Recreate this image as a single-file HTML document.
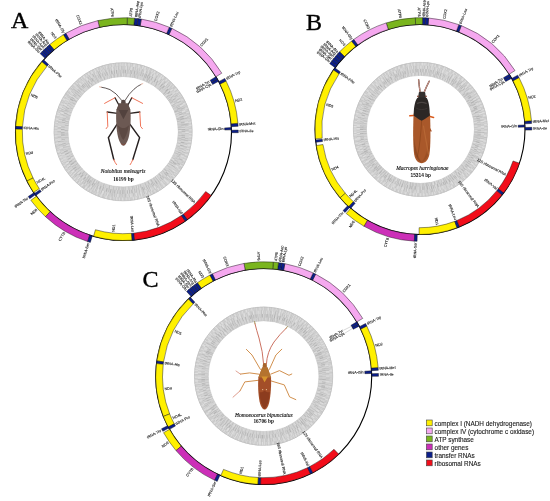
<!DOCTYPE html><html><head><meta charset="utf-8"><title>Mitogenome maps</title><style>html,body{margin:0;padding:0;background:#fff;}svg{display:block;filter:blur(0.35px);}</style></head><body><svg width="550" height="501" viewBox="0 0 550 501">
<rect width="550" height="501" fill="#fff"/>
<circle cx="123.1" cy="131.8" r="62.15" fill="none" stroke="#d3d3d3" stroke-width="14.30"/>
<circle cx="123.1" cy="131.8" r="56.79" fill="none" stroke="#b8b8b8" stroke-width="3.62" opacity="0.8" stroke-dasharray="0.7 1.2 1.1 1.5 0.8 1.7 0.7 1.9 1.1 0.7 0.8 1.1 0.9 1.8 0.4 0.8 0.8 2.3 1.0 2.2 0.5 1.3 0.9 1.3 0.6 2.4 0.9 1.4 0.8 2.0 1.0 2.2 0.7 2.5 1.0 1.1 0.5 1.5 0.6 2.4 0.4 2.2 0.5 2.2 0.7 0.9 1.2 1.4 1.2 1.2 0.6 1.7 0.6 1.8 1.0 1.9 0.4 1.9 0.6 1.5 1.1 2.3 0.5 0.8 1.0 1.5 1.0 1.9 1.2 2.3 1.2 2.4 0.9 1.4 0.5 2.3 0.8 1.6 0.6 1.3 0.8 1.9 0.6 0.9 0.9 2.5 0.8 2.6 0.5 2.2 0.8 0.7 0.5 2.0 1.1 0.9 0.9 2.4 0.6 2.3 0.5 0.9 1.0 2.4 1.0 1.6 0.9 1.7 0.9 2.5 0.8 1.1 0.6 1.7 1.0 1.4 0.6 0.9 1.0 0.6 0.7 0.9 1.0 2.1 0.9 0.8 0.6 1.2 1.1 2.5 1.0 1.7 0.7 1.8 0.8 1.3 0.6 0.7 0.6 0.9 1.0 2.2 0.5 2.4 1.0 1.3 1.0 1.6 0.9 2.1 1.1 1.8 0.6 1.9 0.9 1.6 0.7 2.6 1.2 2.1" stroke-dashoffset="24.5"/>
<circle cx="123.1" cy="131.8" r="56.79" fill="none" stroke="#e4e4e4" stroke-width="3.62" opacity="0.6" stroke-dasharray="1.0 2.7 0.5 3.0 0.9 5.9 1.0 4.6 0.6 5.3 0.5 2.8 0.9 5.2 0.5 5.1 1.0 4.6 0.9 5.9 1.1 2.1 1.1 4.6 1.2 5.8 0.8 2.6 1.2 2.1 0.6 2.8 1.1 2.6 0.9 2.9 0.9 3.7 1.1 4.4 1.2 2.4 0.6 4.3 1.1 5.8 0.6 5.9 0.8 5.7 0.5 3.5 0.9 5.0 1.1 2.5 0.9 2.5 1.0 2.3 1.1 3.7 0.9 4.6 0.6 5.6 0.9 4.0 1.0 3.8 1.2 2.1 0.5 4.5 1.0 4.9 0.5 2.8 0.7 5.5 0.9 3.1 0.7 4.7 0.7 3.1 1.0 2.8 0.7 2.7 0.7 4.9 0.6 3.4 0.8 3.8 0.8 3.3 0.7 5.6 0.8 3.5 0.7 4.6 0.9 5.8 1.1 4.4 1.1 2.1 0.9 4.3 0.7 5.7 0.9 2.4 0.9 3.0 0.7 2.4 0.9 2.5 0.8 5.0 1.1 2.9 0.9 5.0 0.5 3.9 0.9 4.9 1.0 3.8 0.8 4.3 0.8 2.3 0.8 4.1 0.9 4.9 0.5 3.8 0.7 4.0 1.0 4.4 0.6 5.0 1.2 3.8 0.7 5.3 0.8 4.1 0.7 4.5 0.7 3.0" stroke-dashoffset="44.2"/>
<circle cx="123.1" cy="131.8" r="60.36" fill="none" stroke="#adadad" stroke-width="3.62" opacity="0.8" stroke-dasharray="0.8 1.9 0.5 1.2 0.7 1.0 0.8 1.7 1.2 1.1 1.2 2.0 1.1 1.8 0.7 1.9 0.4 1.6 0.9 0.7 0.8 0.6 0.5 0.8 0.5 1.9 0.6 1.9 0.8 1.6 1.1 0.6 0.4 1.1 0.9 1.7 0.5 1.9 0.5 1.5 0.4 1.7 1.3 0.8 0.9 1.9 0.5 0.8 0.6 1.1 0.9 1.4 0.6 1.2 0.6 1.6 1.1 1.5 0.5 0.5 0.9 0.8 0.6 1.0 0.8 1.3 0.6 1.3 0.7 1.9 0.6 0.7 1.2 0.6 0.5 2.1 0.5 2.2 0.5 1.1 1.0 1.7 1.1 1.5 0.7 1.2 0.9 1.9 0.5 1.5 1.2 1.6 0.9 1.2 1.0 2.2 0.9 1.7 0.5 0.7 1.3 0.8 0.9 1.3 1.2 1.5 0.6 0.8 0.8 1.8 1.1 2.1 0.5 1.8 0.6 0.8 0.7 0.8 1.2 1.3 0.7 0.5 1.1 0.8 1.2 0.7 1.0 1.6 1.2 2.2 1.3 1.6 1.0 2.1 0.5 1.7 1.1 1.4 1.2 1.7 0.7 1.2 1.2 1.7 1.3 2.0 0.8 1.8 0.6 2.1 1.1 1.6 1.1 0.8 0.5 2.0 1.1 0.8 0.6 0.9" stroke-dashoffset="0.7"/>
<circle cx="123.1" cy="131.8" r="60.36" fill="none" stroke="#e2e2e2" stroke-width="3.62" opacity="0.5" stroke-dasharray="1.2 5.7 0.5 2.8 0.9 5.3 0.7 4.7 0.6 5.8 1.2 6.0 1.2 5.3 0.6 4.7 0.7 2.5 1.0 3.5 0.8 2.3 1.0 4.8 1.1 4.5 0.5 5.4 1.0 5.8 0.6 3.1 0.9 5.2 0.6 3.6 1.2 5.8 1.2 4.6 1.0 5.5 1.1 2.2 0.9 5.7 1.1 2.1 0.5 4.1 1.1 5.1 1.0 2.6 0.8 4.5 0.7 4.3 0.7 4.0 0.8 5.1 1.1 2.3 0.7 5.3 1.2 4.5 1.1 5.4 0.7 4.3 0.7 2.4 1.2 4.1 0.6 4.0 1.2 5.1 1.1 5.5 0.8 2.2 0.8 4.5 1.1 4.3 0.6 4.3 1.1 4.3 0.6 4.9 0.9 3.9 0.7 5.8 0.6 5.7 0.6 4.6 0.6 3.9 1.1 2.8 1.0 5.2 0.8 5.2 0.8 5.9 0.8 3.0 1.0 2.9 0.8 4.0 0.9 5.0 0.7 5.3 0.8 2.2 0.7 5.6 1.0 3.5 1.0 3.1 0.6 4.9 1.1 5.7 0.9 3.1 0.6 4.5 0.8 2.8 0.8 2.6 1.0 3.0 1.1 4.7 0.9 4.3 1.2 5.6 0.6 5.7 0.6 5.5 0.5 2.2 0.8 5.9 0.8 4.4" stroke-dashoffset="20.0"/>
<circle cx="123.1" cy="131.8" r="63.94" fill="none" stroke="#b6b6b6" stroke-width="3.62" opacity="0.75" stroke-dasharray="0.6 2.2 0.7 0.7 0.8 1.4 0.7 2.3 1.0 1.5 0.4 1.6 0.9 1.9 0.6 2.0 0.7 1.0 0.5 2.3 0.9 2.3 0.7 1.3 0.8 1.0 0.9 0.8 0.5 0.7 0.5 1.0 0.4 1.7 1.0 1.1 0.4 1.1 1.0 0.8 0.9 1.6 0.9 1.7 0.9 2.0 1.0 2.2 0.5 0.9 0.9 1.4 0.4 1.9 0.5 0.7 0.5 1.7 0.5 1.9 0.8 2.2 0.7 2.0 1.0 0.9 0.8 0.7 0.7 1.9 0.8 1.8 0.7 2.2 0.6 0.6 1.0 1.8 0.5 0.8 0.5 1.4 0.6 2.2 0.6 0.8 0.8 1.1 0.6 1.1 1.0 2.2 0.8 0.9 0.4 2.0 0.9 2.2 0.6 1.9 0.4 0.7 0.6 1.8 1.0 0.9 0.7 1.4 0.5 0.9 0.9 1.0 0.6 1.2 0.7 1.6 0.7 0.8 0.7 1.4 0.4 1.3 0.7 1.1 0.7 0.7 0.4 1.1 0.4 0.7 0.7 1.6 0.5 2.2 0.8 1.9 0.8 1.3 0.5 2.2 0.8 0.8 0.6 1.5 0.4 1.6 1.0 1.9 1.0 2.2 0.8 1.5 1.0 1.2 0.4 1.7 0.7 1.8 0.9 0.9" stroke-dashoffset="22.5"/>
<circle cx="123.1" cy="131.8" r="63.94" fill="none" stroke="#e6e6e6" stroke-width="3.62" opacity="0.6" stroke-dasharray="0.8 3.2 0.9 3.7 1.8 2.1 1.1 3.1 1.0 1.7 1.3 4.1 1.7 2.8 1.0 3.1 1.8 3.2 1.3 1.7 1.7 2.2 1.5 4.3 0.9 2.4 1.0 4.7 1.4 4.4 1.6 4.7 1.1 3.8 1.6 3.6 1.2 4.5 1.0 1.6 1.7 2.9 1.7 2.1 1.4 2.6 1.1 3.2 1.7 2.6 1.6 3.9 1.2 4.3 1.6 3.2 1.4 4.0 2.0 1.6 1.0 3.2 0.8 4.5 1.6 3.8 0.9 4.2 1.1 3.8 1.9 3.6 1.6 1.7 1.0 3.5 1.2 4.6 1.1 4.1 1.0 3.0 1.5 5.0 1.0 1.6 1.4 2.0 1.2 2.1 1.7 1.5 1.5 1.5 0.9 1.6 1.4 2.4 1.1 2.4 0.9 2.3 1.8 3.3 1.0 2.1 1.9 3.6 0.9 3.9 0.9 2.7 1.4 4.4 0.9 3.2 1.4 2.1 1.8 2.9 1.0 3.2 1.5 3.4 1.8 4.3 1.2 1.6 0.9 1.7 0.9 2.4 1.9 4.4 1.8 1.7 1.6 2.6 1.5 4.4 1.1 3.7 1.4 4.5 0.8 1.8 1.1 2.3 1.0 4.5 1.5 3.2 1.4 2.0 1.3 4.6 1.4 3.3 1.3 3.9" stroke-dashoffset="41.3"/>
<circle cx="123.1" cy="131.8" r="67.51" fill="none" stroke="#bcbcbc" stroke-width="3.62" opacity="0.85" stroke-dasharray="0.4 1.1 0.5 0.9 0.4 0.9 0.5 0.8 0.5 1.1 0.4 1.2 0.4 0.8 0.5 1.1 0.4 0.9 0.3 1.0 0.5 1.1 0.5 0.9 0.4 1.3 0.4 1.0 0.3 0.8 0.3 1.2 0.5 0.7 0.4 0.7 0.4 1.1 0.4 1.1 0.4 1.2 0.4 1.0 0.5 0.9 0.4 0.7 0.3 1.0 0.3 1.1 0.4 1.2 0.4 0.9 0.5 0.9 0.5 0.6 0.3 1.1 0.4 1.1 0.4 0.8 0.4 1.2 0.3 0.6 0.4 1.1 0.4 0.7 0.4 0.7 0.5 1.1 0.3 1.0 0.4 1.0 0.5 1.2 0.4 0.8 0.5 1.3 0.3 0.8 0.5 0.9 0.4 1.2 0.4 0.7 0.5 0.6 0.3 0.6 0.5 0.9 0.3 0.8 0.5 0.7 0.4 0.8 0.5 1.0 0.5 0.9 0.3 1.2 0.5 1.1 0.5 0.6 0.5 0.8 0.5 1.2 0.5 1.1 0.3 1.3 0.5 1.0 0.5 0.7 0.3 1.3 0.4 0.8 0.4 0.9 0.4 0.8 0.4 1.3 0.5 0.7 0.5 1.2 0.5 0.9 0.4 1.2 0.3 1.3 0.5 0.9 0.5 1.0 0.5 0.6 0.4 0.8 0.5 0.6" stroke-dashoffset="34.2"/>
<circle cx="123.1" cy="131.8" r="67.51" fill="none" stroke="#e6e6e6" stroke-width="3.62" opacity="0.6" stroke-dasharray="0.8 1.3 1.8 1.9 0.9 3.5 1.7 2.2 0.8 3.0 0.7 2.4 1.7 2.0 0.9 2.2 1.8 1.8 0.9 3.4 0.6 2.1 0.9 1.5 1.7 1.5 0.9 1.6 1.5 1.8 1.7 2.0 1.4 1.1 1.6 2.4 1.1 2.4 0.8 1.2 1.5 2.8 0.7 1.6 1.3 3.1 1.1 2.9 0.8 1.3 0.7 1.7 1.5 2.3 1.2 3.4 1.8 3.3 1.6 2.6 1.3 1.1 1.5 2.7 1.0 2.4 1.0 1.5 1.4 2.3 1.2 2.9 1.5 1.0 1.3 2.4 1.5 1.4 1.1 3.2 0.8 1.6 0.9 2.6 1.7 2.2 0.8 2.3 0.9 1.7 0.7 2.3 1.0 3.5 1.7 3.3 1.8 2.6 1.2 2.1 0.7 3.4 0.7 2.1 1.5 1.3 1.6 2.9 1.5 2.6 0.9 2.0 1.3 1.6 1.3 2.5 1.2 1.5 0.9 2.6 1.3 2.0 1.3 2.4 0.9 2.9 0.8 1.0 1.6 1.7 1.3 1.4 1.2 1.8 1.7 2.9 0.6 3.5 1.4 1.8 1.3 2.8 1.2 2.0 1.1 1.2 0.6 2.2 1.2 1.9 1.2 1.7 1.0 1.7 1.7 2.4 1.2 1.0 1.4 3.0" stroke-dashoffset="37.1"/>
<path d="M99.2,81.9L96.0,75.1M132.7,77.3L134.0,70.0M178.0,124.8L189.0,123.4M137.4,78.4L139.8,69.3M97.3,82.9L92.9,74.6M177.1,119.7L189.3,116.9M174.9,112.4L182.7,109.4M170.7,159.9L178.6,164.5M172.9,155.8L182.2,160.3M118.8,76.7L118.0,66.0M99.4,181.8L94.1,193.1M162.6,170.5L171.6,179.2M75.9,160.6L67.3,165.8M69.8,117.1L62.6,115.2M120.6,76.6L120.1,65.7M91.2,177.0L83.6,187.7M80.5,96.6L71.6,89.2M178.3,135.5L187.8,136.1M82.7,94.0L73.1,85.1M146.7,81.8L151.2,72.4M101.6,80.8L96.6,68.9M174.3,110.8L181.1,108.0M145.6,81.3L149.8,71.8M113.9,186.3L112.0,197.3M135.4,77.9L137.3,69.2M177.9,138.9L185.2,139.8M79.8,166.1L74.0,170.7M176.1,147.5L185.5,150.3M176.8,118.7L183.8,117.0M88.8,175.2L81.6,184.3M163.7,169.4L173.4,178.3M89.0,88.3L81.9,79.3M178.1,126.1L187.3,125.1M163.4,93.9L171.5,86.2M81.2,95.7L71.8,87.6M158.3,89.2L165.1,81.0M177.8,123.7L185.1,122.6M171.9,157.8L182.4,163.4M153.4,178.1L160.4,188.8M114.2,186.4L112.7,196.2M84.6,92.1L77.7,85.0M174.5,111.5L185.5,107.2M77.9,163.6L69.2,169.7M121.4,187.1L121.1,195.2M123.8,187.1L123.9,200.3" stroke="#acacac" stroke-width="0.45" opacity="0.5"/>
<circle cx="123.1" cy="131.8" r="69.05" fill="none" stroke="#b6b6b6" stroke-width="0.5"/>
<circle cx="123.1" cy="131.8" r="55.25" fill="none" stroke="#c4c4c4" stroke-width="0.5"/>
<circle cx="123.5" cy="132.5" r="108" fill="none" stroke="#000" stroke-width="1.1"/>
<path d="M238.27,130.10A114.8,114.8 0 0 1 238.30,132.70L231.50,132.69A108,108 0 0 0 231.48,130.24Z" fill="#0b1e8a" stroke="#111" stroke-width="0.45"/>
<path d="M231.39,127.60A108,108 0 0 1 231.47,129.86L224.67,130.03A101.2,101.2 0 0 0 224.60,127.91Z" fill="#0b1e8a" stroke="#111" stroke-width="0.45"/>
<path d="M237.93,123.29A114.8,114.8 0 0 1 238.13,126.29L231.34,126.66A108,108 0 0 0 231.15,123.84Z" fill="#0b1e8a" stroke="#111" stroke-width="0.45"/>
<path d="M226.06,80.92A114.8,114.8 0 0 1 237.93,123.29L231.15,123.84A108,108 0 0 0 219.98,83.97Z" fill="#fff000" stroke="#111" stroke-width="0.45"/>
<path d="M224.77,78.43A114.8,114.8 0 0 1 226.06,80.92L219.98,83.97A108,108 0 0 0 218.77,81.63Z" fill="#0b1e8a" stroke="#111" stroke-width="0.45"/>
<path d="M217.31,78.99A108,108 0 0 1 218.59,81.30L212.60,84.52A101.2,101.2 0 0 0 211.41,82.36Z" fill="#0b1e8a" stroke="#111" stroke-width="0.45"/>
<path d="M215.98,76.71A108,108 0 0 1 217.31,78.99L211.41,82.36A101.2,101.2 0 0 0 210.15,80.23Z" fill="#0b1e8a" stroke="#111" stroke-width="0.45"/>
<path d="M171.83,28.37A114.8,114.8 0 0 1 221.80,73.20L215.98,76.71A108,108 0 0 0 168.97,34.54Z" fill="#f5a8ef" stroke="#111" stroke-width="0.45"/>
<path d="M169.28,27.22A114.8,114.8 0 0 1 171.83,28.37L168.97,34.54A108,108 0 0 0 166.56,33.46Z" fill="#0b1e8a" stroke="#111" stroke-width="0.45"/>
<path d="M141.26,19.08A114.8,114.8 0 0 1 169.28,27.22L166.56,33.46A108,108 0 0 0 140.21,25.80Z" fill="#f5a8ef" stroke="#111" stroke-width="0.45"/>
<path d="M137.89,18.61A114.8,114.8 0 0 1 141.26,19.08L140.21,25.80A108,108 0 0 0 137.04,25.35Z" fill="#0b1e8a" stroke="#111" stroke-width="0.45"/>
<path d="M134.50,18.23A114.8,114.8 0 0 1 137.89,18.61L137.04,25.35A108,108 0 0 0 133.85,25.00Z" fill="#0b1e8a" stroke="#111" stroke-width="0.45"/>
<path d="M127.31,17.76A114.8,114.8 0 0 1 134.50,18.23L133.85,25.00A108,108 0 0 0 127.08,24.56Z" fill="#7ab51e" stroke="#111" stroke-width="0.45"/>
<path d="M97.87,20.60A114.8,114.8 0 0 1 127.31,17.76L127.08,24.56A108,108 0 0 0 99.39,27.23Z" fill="#7ab51e" stroke="#111" stroke-width="0.45"/>
<path d="M65.75,33.28A114.8,114.8 0 0 1 97.87,20.60L99.39,27.23A108,108 0 0 0 69.17,39.16Z" fill="#f5a8ef" stroke="#111" stroke-width="0.45"/>
<path d="M63.35,34.72A114.8,114.8 0 0 1 65.75,33.28L69.17,39.16A108,108 0 0 0 66.91,40.51Z" fill="#0b1e8a" stroke="#111" stroke-width="0.45"/>
<path d="M49.71,44.56A114.8,114.8 0 0 1 63.35,34.72L66.91,40.51A108,108 0 0 0 54.08,49.77Z" fill="#fff000" stroke="#111" stroke-width="0.45"/>
<path d="M47.70,46.28A114.8,114.8 0 0 1 49.71,44.56L54.08,49.77A108,108 0 0 0 52.19,51.39Z" fill="#0b1e8a" stroke="#111" stroke-width="0.45"/>
<path d="M45.74,48.05A114.8,114.8 0 0 1 47.70,46.28L52.19,51.39A108,108 0 0 0 50.34,53.05Z" fill="#0b1e8a" stroke="#111" stroke-width="0.45"/>
<path d="M43.81,49.86A114.8,114.8 0 0 1 45.74,48.05L50.34,53.05A108,108 0 0 0 48.53,54.76Z" fill="#0b1e8a" stroke="#111" stroke-width="0.45"/>
<path d="M41.93,51.72A114.8,114.8 0 0 1 43.81,49.86L48.53,54.76A108,108 0 0 0 46.76,56.51Z" fill="#0b1e8a" stroke="#111" stroke-width="0.45"/>
<path d="M40.09,53.62A114.8,114.8 0 0 1 41.93,51.72L46.76,56.51A108,108 0 0 0 45.03,58.29Z" fill="#0b1e8a" stroke="#111" stroke-width="0.45"/>
<path d="M41.87,61.79A108,108 0 0 1 43.62,59.81L48.65,64.39A101.2,101.2 0 0 0 47.01,66.24Z" fill="#0b1e8a" stroke="#111" stroke-width="0.45"/>
<path d="M15.67,126.47A108,108 0 0 1 41.87,61.79L47.01,66.24A101.2,101.2 0 0 0 22.46,126.85Z" fill="#fff000" stroke="#111" stroke-width="0.45"/>
<path d="M15.55,129.11A108,108 0 0 1 15.67,126.47L22.46,126.85A101.2,101.2 0 0 0 22.35,129.32Z" fill="#0b1e8a" stroke="#111" stroke-width="0.45"/>
<path d="M27.02,181.03A108,108 0 0 1 15.55,129.11L22.35,129.32A101.2,101.2 0 0 0 33.09,177.97Z" fill="#fff000" stroke="#111" stroke-width="0.45"/>
<path d="M33.65,192.42A108,108 0 0 1 27.02,181.03L33.09,177.97A101.2,101.2 0 0 0 39.31,188.65Z" fill="#fff000" stroke="#111" stroke-width="0.45"/>
<path d="M29.69,198.67A114.8,114.8 0 0 1 28.21,196.53L33.86,192.74A108,108 0 0 0 35.25,194.75Z" fill="#0b1e8a" stroke="#111" stroke-width="0.45"/>
<path d="M35.79,195.52A108,108 0 0 1 34.39,193.52L40.00,189.67A101.2,101.2 0 0 0 41.32,191.55Z" fill="#0b1e8a" stroke="#111" stroke-width="0.45"/>
<path d="M45.50,216.73A114.8,114.8 0 0 1 30.86,200.30L36.35,196.29A108,108 0 0 0 50.12,211.74Z" fill="#fff000" stroke="#111" stroke-width="0.45"/>
<path d="M87.64,241.56A114.8,114.8 0 0 1 45.50,216.73L50.12,211.74A108,108 0 0 0 89.77,235.10Z" fill="#cc2fb8" stroke="#111" stroke-width="0.45"/>
<path d="M90.32,242.40A114.8,114.8 0 0 1 87.64,241.56L89.77,235.10A108,108 0 0 0 92.28,235.89Z" fill="#0b1e8a" stroke="#111" stroke-width="0.45"/>
<path d="M132.16,240.15A108,108 0 0 1 93.55,236.26L95.44,229.73A101.2,101.2 0 0 0 131.62,233.37Z" fill="#fff000" stroke="#111" stroke-width="0.45"/>
<path d="M134.60,239.93A108,108 0 0 1 132.16,240.15L131.62,233.37A101.2,101.2 0 0 0 133.90,233.16Z" fill="#0b1e8a" stroke="#111" stroke-width="0.45"/>
<path d="M185.29,221.08A108,108 0 0 1 134.60,239.93L133.90,233.16A101.2,101.2 0 0 0 181.40,215.50Z" fill="#f20d1a" stroke="#111" stroke-width="0.45"/>
<path d="M187.44,219.54A108,108 0 0 1 185.29,221.08L181.40,215.50A101.2,101.2 0 0 0 183.41,214.06Z" fill="#0b1e8a" stroke="#111" stroke-width="0.45"/>
<path d="M211.21,195.52A108,108 0 0 1 187.44,219.54L183.41,214.06A101.2,101.2 0 0 0 205.68,191.55Z" fill="#f20d1a" stroke="#111" stroke-width="0.45"/>
<g font-family="Liberation Sans, Arial, sans-serif"><text x="39.50" y="52.50" transform="rotate(403.60 39.50 52.50)" text-anchor="end" dominant-baseline="central" font-size="3.7" fill="#2a2a2a" stroke="#2a2a2a" stroke-width="0.12">tRNA-Glu</text>
<text x="41.69" y="50.26" transform="rotate(405.15 41.69 50.26)" text-anchor="end" dominant-baseline="central" font-size="3.7" fill="#2a2a2a" stroke="#2a2a2a" stroke-width="0.12">tRNA-Ser</text>
<text x="43.95" y="48.08" transform="rotate(406.70 43.95 48.08)" text-anchor="end" dominant-baseline="central" font-size="3.7" fill="#2a2a2a" stroke="#2a2a2a" stroke-width="0.12">tRNA-Asn</text>
<text x="46.26" y="45.96" transform="rotate(408.25 46.26 45.96)" text-anchor="end" dominant-baseline="central" font-size="3.7" fill="#2a2a2a" stroke="#2a2a2a" stroke-width="0.12">tRNA-Arg</text>
<text x="48.63" y="43.90" transform="rotate(409.80 48.63 43.90)" text-anchor="end" dominant-baseline="central" font-size="3.7" fill="#2a2a2a" stroke="#2a2a2a" stroke-width="0.12">tRNA-Ala</text>
<text x="55.64" y="38.42" transform="rotate(414.20 55.64 38.42)" text-anchor="end" dominant-baseline="central" font-size="3.7" fill="#2a2a2a" stroke="#2a2a2a" stroke-width="0.12">ND3</text>
<text x="63.93" y="32.96" transform="rotate(419.10 63.93 32.96)" text-anchor="end" dominant-baseline="central" font-size="3.7" fill="#2a2a2a" stroke="#2a2a2a" stroke-width="0.12">tRNA-Gly</text>
<text x="80.89" y="24.61" transform="rotate(428.45 80.89 24.61)" text-anchor="end" dominant-baseline="central" font-size="3.7" fill="#2a2a2a" stroke="#2a2a2a" stroke-width="0.12">COX3</text>
<text x="112.38" y="17.03" transform="rotate(444.50 112.38 17.03)" text-anchor="end" dominant-baseline="central" font-size="3.7" fill="#2a2a2a" stroke="#2a2a2a" stroke-width="0.12">ATP6</text>
<text x="130.99" y="16.74" transform="rotate(-86.30 130.99 16.74)" text-anchor="start" dominant-baseline="central" font-size="3.7" fill="#2a2a2a" stroke="#2a2a2a" stroke-width="0.12">ATP8</text>
<text x="136.33" y="17.21" transform="rotate(-83.65 136.33 17.21)" text-anchor="start" dominant-baseline="central" font-size="3.7" fill="#2a2a2a" stroke="#2a2a2a" stroke-width="0.12">tRNA-Asp</text>
<text x="139.74" y="17.64" transform="rotate(-81.95 139.74 17.64)" text-anchor="start" dominant-baseline="central" font-size="3.7" fill="#2a2a2a" stroke="#2a2a2a" stroke-width="0.12">tRNA-Lys</text>
<text x="155.86" y="21.11" transform="rotate(-73.80 155.86 21.11)" text-anchor="start" dominant-baseline="central" font-size="3.7" fill="#2a2a2a" stroke="#2a2a2a" stroke-width="0.12">COX2</text>
<text x="171.05" y="26.69" transform="rotate(-65.80 171.05 26.69)" text-anchor="start" dominant-baseline="central" font-size="3.7" fill="#2a2a2a" stroke="#2a2a2a" stroke-width="0.12">tRNA-Leu</text>
<text x="200.97" y="46.16" transform="rotate(-48.10 200.97 46.16)" text-anchor="start" dominant-baseline="central" font-size="3.7" fill="#2a2a2a" stroke="#2a2a2a" stroke-width="0.12">COX1</text>
<text x="226.49" y="79.12" transform="rotate(-27.40 226.49 79.12)" text-anchor="start" dominant-baseline="central" font-size="3.7" fill="#2a2a2a" stroke="#2a2a2a" stroke-width="0.12">tRNA-Trp</text>
<text x="235.20" y="101.21" transform="rotate(-15.65 235.20 101.21)" text-anchor="start" dominant-baseline="central" font-size="3.7" fill="#2a2a2a" stroke="#2a2a2a" stroke-width="0.12">ND2</text>
<text x="239.24" y="124.71" transform="rotate(-3.85 239.24 124.71)" text-anchor="start" dominant-baseline="central" font-size="3.7" fill="#2a2a2a" stroke="#2a2a2a" stroke-width="0.12">tRNA-Met</text>
<text x="239.49" y="131.39" transform="rotate(-0.55 239.49 131.39)" text-anchor="start" dominant-baseline="central" font-size="3.7" fill="#2a2a2a" stroke="#2a2a2a" stroke-width="0.12">tRNA-Ile</text>
<text x="88.62" y="243.13" transform="rotate(287.50 88.62 243.13)" text-anchor="end" dominant-baseline="central" font-size="3.7" fill="#2a2a2a" stroke="#2a2a2a" stroke-width="0.12">tRNA-Ser</text>
<text x="64.63" y="232.45" transform="rotate(300.50 64.63 232.45)" text-anchor="end" dominant-baseline="central" font-size="3.7" fill="#2a2a2a" stroke="#2a2a2a" stroke-width="0.12">CYTB</text>
<text x="36.89" y="209.67" transform="rotate(318.30 36.89 209.67)" text-anchor="end" dominant-baseline="central" font-size="3.7" fill="#2a2a2a" stroke="#2a2a2a" stroke-width="0.12">ND6</text>
<text x="27.96" y="198.29" transform="rotate(325.45 27.96 198.29)" text-anchor="end" dominant-baseline="central" font-size="3.7" fill="#2a2a2a" stroke="#2a2a2a" stroke-width="0.12">tRNA-Thr</text>
<text x="23.60" y="128.14" transform="rotate(362.50 23.60 128.14)" text-anchor="start" dominant-baseline="central" font-size="3.7" fill="#2a2a2a" stroke="#2a2a2a" stroke-width="0.12">tRNA-His</text>
<text x="30.81" y="94.96" transform="rotate(382.05 30.81 94.96)" text-anchor="start" dominant-baseline="central" font-size="3.7" fill="#2a2a2a" stroke="#2a2a2a" stroke-width="0.12">ND5</text>
<text x="48.72" y="66.11" transform="rotate(401.60 48.72 66.11)" text-anchor="start" dominant-baseline="central" font-size="3.7" fill="#2a2a2a" stroke="#2a2a2a" stroke-width="0.12">tRNA-Phe</text>
<text x="209.49" y="81.45" transform="rotate(-30.70 209.49 81.45)" text-anchor="end" dominant-baseline="central" font-size="3.7" fill="#2a2a2a" stroke="#2a2a2a" stroke-width="0.12">tRNA-Tyr</text>
<text x="211.21" y="84.48" transform="rotate(-28.70 211.21 84.48)" text-anchor="end" dominant-baseline="central" font-size="3.7" fill="#2a2a2a" stroke="#2a2a2a" stroke-width="0.12">tRNA-Cys</text>
<text x="223.44" y="129.01" transform="rotate(-2.00 223.44 129.01)" text-anchor="end" dominant-baseline="central" font-size="3.7" fill="#2a2a2a" stroke="#2a2a2a" stroke-width="0.12">tRNA-Gln</text>
<text x="194.58" y="202.84" transform="rotate(44.70 194.58 202.84)" text-anchor="end" dominant-baseline="central" font-size="3.7" fill="#2a2a2a" stroke="#2a2a2a" stroke-width="0.12">12S ribosomal RNA</text>
<text x="181.71" y="213.81" transform="rotate(54.40 181.71 213.81)" text-anchor="end" dominant-baseline="central" font-size="3.7" fill="#2a2a2a" stroke="#2a2a2a" stroke-width="0.12">tRNA-Val</text>
<text x="158.36" y="226.23" transform="rotate(69.60 158.36 226.23)" text-anchor="end" dominant-baseline="central" font-size="3.7" fill="#2a2a2a" stroke="#2a2a2a" stroke-width="0.12">16S ribosomal RNA</text>
<text x="132.65" y="232.08" transform="rotate(84.75 132.65 232.08)" text-anchor="end" dominant-baseline="central" font-size="3.7" fill="#2a2a2a" stroke="#2a2a2a" stroke-width="0.12">tRNA-Leu</text>
<text x="113.48" y="232.00" transform="rotate(275.75 113.48 232.00)" text-anchor="start" dominant-baseline="central" font-size="3.7" fill="#2a2a2a" stroke="#2a2a2a" stroke-width="0.12">ND1</text>
<text x="41.63" y="189.93" transform="rotate(324.95 41.63 189.93)" text-anchor="start" dominant-baseline="central" font-size="3.7" fill="#2a2a2a" stroke="#2a2a2a" stroke-width="0.12">tRNA-Pro</text>
<text x="37.07" y="182.80" transform="rotate(329.80 37.07 182.80)" text-anchor="start" dominant-baseline="central" font-size="3.7" fill="#2a2a2a" stroke="#2a2a2a" stroke-width="0.12">ND4L</text>
<text x="25.85" y="154.06" transform="rotate(347.55 25.85 154.06)" text-anchor="start" dominant-baseline="central" font-size="3.7" fill="#2a2a2a" stroke="#2a2a2a" stroke-width="0.12">ND4</text></g>
<circle cx="420.4" cy="129.4" r="60.55" fill="none" stroke="#d3d3d3" stroke-width="13.50"/>
<circle cx="420.4" cy="129.4" r="55.49" fill="none" stroke="#b8b8b8" stroke-width="3.42" opacity="0.8" stroke-dasharray="0.5 1.5 0.6 1.5 0.6 2.3 0.8 2.1 1.1 1.6 0.8 0.9 1.0 0.7 0.7 0.9 1.0 1.5 0.8 1.7 1.1 2.6 0.7 2.4 1.0 2.0 1.2 1.0 0.7 1.6 0.6 1.2 0.6 2.4 1.2 2.4 1.0 1.4 0.6 1.4 0.4 0.8 0.8 1.4 0.9 1.7 0.5 2.3 0.7 1.6 0.7 1.3 1.1 2.5 0.5 2.4 1.0 2.2 0.6 2.4 0.9 1.5 0.4 1.6 0.5 1.2 1.1 1.3 1.1 1.3 0.5 1.4 0.5 0.9 0.9 2.0 0.5 2.1 0.8 0.8 0.5 2.0 1.1 2.2 0.9 0.7 1.0 0.7 1.0 0.8 1.2 1.6 0.6 0.8 0.6 2.0 0.6 0.8 1.0 0.9 0.5 1.0 0.5 1.1 0.5 0.6 0.5 1.4 1.1 2.3 0.8 0.9 1.1 1.1 0.8 1.7 0.7 1.1 1.1 0.8 0.7 2.0 0.6 0.6 0.5 2.1 0.8 1.3 1.1 1.9 0.6 1.0 1.1 1.4 0.8 1.3 1.2 1.8 1.1 1.4 0.9 0.8 0.5 1.2 0.6 2.5 0.6 1.7 1.1 1.7 1.1 2.0 1.0 0.9 0.6 2.3 0.7 2.1 0.9 2.6" stroke-dashoffset="27.2"/>
<circle cx="420.4" cy="129.4" r="55.49" fill="none" stroke="#e4e4e4" stroke-width="3.42" opacity="0.6" stroke-dasharray="1.2 5.3 1.0 5.8 1.0 3.8 1.1 4.8 0.9 5.0 0.9 5.6 0.9 5.6 0.8 5.2 0.5 5.8 0.6 3.6 0.7 5.3 1.0 3.7 0.6 3.9 1.1 5.5 0.7 5.9 0.7 5.8 0.6 2.2 0.9 3.3 0.9 4.0 0.6 5.6 0.5 3.2 0.9 4.5 0.7 3.1 0.6 5.3 0.8 2.8 1.1 5.1 1.1 4.2 1.2 3.6 1.1 5.8 0.9 4.0 0.9 4.8 0.7 6.0 1.0 5.7 1.1 2.8 0.5 3.0 1.1 5.8 0.7 3.4 0.5 3.4 0.6 4.6 0.9 5.7 0.6 3.1 0.7 4.6 0.8 4.4 0.5 2.8 0.9 4.8 1.0 2.6 0.9 3.0 1.0 5.5 0.6 2.2 0.7 5.5 0.5 2.4 0.8 3.6 1.1 2.1 1.2 3.2 1.2 4.7 0.6 2.7 1.2 3.0 0.7 5.0 0.7 5.9 0.6 2.4 1.2 3.8 1.0 3.3 1.1 4.0 0.6 3.9 0.9 5.8 1.1 5.7 1.0 5.1 0.9 4.4 1.0 4.0 0.8 4.3 0.8 3.6 0.8 3.0 0.6 4.7 0.6 3.0 0.7 4.3 0.8 2.6 1.0 4.9 0.5 3.6 0.7 4.5 0.8 4.6" stroke-dashoffset="23.6"/>
<circle cx="420.4" cy="129.4" r="58.86" fill="none" stroke="#adadad" stroke-width="3.42" opacity="0.8" stroke-dasharray="0.6 0.9 0.5 1.9 0.9 1.1 0.9 2.1 1.0 0.8 0.5 1.2 1.1 1.5 0.9 0.5 1.0 1.0 0.5 1.0 0.7 0.6 0.6 1.5 0.8 1.6 0.8 2.2 0.7 0.6 0.6 0.9 1.2 0.6 1.3 2.1 1.0 1.1 1.2 1.8 0.8 1.4 0.9 0.7 1.2 0.6 0.5 1.7 1.0 1.7 0.4 1.2 1.2 1.0 0.6 1.0 1.2 0.9 0.6 1.3 0.9 1.2 0.5 1.3 0.4 2.1 1.0 1.4 1.0 1.3 1.2 1.4 1.1 0.7 0.7 1.4 1.1 0.6 1.0 2.1 0.7 1.3 1.0 1.9 0.7 1.2 1.1 1.8 0.5 1.4 0.9 0.6 0.7 1.3 0.9 0.8 1.0 1.1 1.1 2.0 1.0 0.7 0.8 0.8 1.0 1.0 1.1 0.8 0.5 1.8 1.1 2.1 0.5 1.1 0.8 0.9 1.1 1.1 0.7 1.4 1.0 1.6 0.6 1.1 1.2 1.9 0.7 2.0 0.4 1.6 1.2 2.1 1.1 0.9 1.2 1.6 1.0 1.4 1.1 1.8 1.2 1.3 0.7 1.1 0.7 0.7 0.5 1.2 0.8 1.8 0.7 0.9 1.1 0.6 1.1 0.9 0.9 2.1 0.6 0.8" stroke-dashoffset="41.5"/>
<circle cx="420.4" cy="129.4" r="58.86" fill="none" stroke="#e2e2e2" stroke-width="3.42" opacity="0.5" stroke-dasharray="0.8 3.1 0.7 4.0 0.5 5.8 1.1 2.9 0.9 5.1 1.0 4.8 1.0 5.6 1.0 4.4 0.9 2.4 0.9 3.9 0.6 4.2 0.5 3.6 1.2 4.0 0.7 4.9 1.0 3.4 0.5 5.6 0.8 5.6 1.1 5.0 1.2 3.8 1.0 2.4 0.9 3.1 1.1 3.9 0.6 3.1 0.8 3.6 0.9 3.1 0.6 5.8 0.6 3.0 1.1 4.6 1.0 5.6 1.0 3.3 1.0 5.7 1.1 4.2 0.5 2.3 1.0 4.7 1.2 3.2 0.8 3.2 0.9 3.6 0.9 3.4 1.1 5.5 1.1 4.7 0.9 3.3 1.1 2.8 1.0 4.4 1.0 3.2 1.1 2.2 0.7 4.9 1.2 4.6 0.7 4.7 0.8 5.1 0.8 3.2 0.9 3.5 0.9 3.3 0.6 3.1 1.1 3.2 0.6 3.5 0.9 3.1 0.7 2.7 0.6 3.9 0.8 5.6 0.8 4.5 1.1 2.5 1.0 3.6 0.5 2.4 1.0 3.4 1.1 6.0 0.9 5.5 0.6 4.8 0.8 3.0 1.1 4.2 0.8 2.3 1.0 5.3 0.6 5.2 1.0 4.5 0.8 4.4 0.8 2.7 1.1 5.2 0.6 2.8 1.1 2.8 1.1 3.1 0.6 3.9" stroke-dashoffset="11.4"/>
<circle cx="420.4" cy="129.4" r="62.24" fill="none" stroke="#b6b6b6" stroke-width="3.42" opacity="0.75" stroke-dasharray="0.5 0.6 0.7 2.2 0.7 1.3 0.8 1.6 0.9 1.2 0.7 1.5 0.5 1.5 0.9 1.5 0.9 1.0 0.4 1.6 0.8 1.8 0.7 1.4 0.6 1.3 0.4 2.0 0.5 1.7 0.7 1.7 0.9 1.3 0.4 2.0 0.6 0.8 0.7 0.8 0.5 1.8 1.0 1.6 0.7 1.5 0.9 2.3 0.9 1.4 0.5 1.2 0.5 1.4 0.8 1.4 0.4 0.7 0.5 1.0 0.7 2.4 0.8 1.0 0.5 2.2 0.4 1.1 0.7 2.1 0.9 1.2 0.4 1.2 0.4 2.1 0.9 0.7 0.5 2.3 0.9 2.0 0.6 2.3 0.6 1.6 0.6 0.8 0.7 1.3 0.8 0.7 0.8 0.7 0.9 1.7 0.8 2.4 0.8 1.3 0.5 0.9 0.6 0.9 0.9 2.2 0.8 1.0 0.5 0.9 0.6 1.9 0.4 1.9 0.5 0.7 1.0 1.6 1.0 2.4 0.5 2.3 0.7 1.9 0.6 2.2 0.9 2.1 0.7 0.8 0.9 2.0 0.6 0.7 0.9 0.9 0.7 1.4 0.4 1.9 0.5 1.5 0.8 2.4 0.6 1.9 0.4 1.3 0.9 0.8 0.8 2.0 0.8 1.2 0.9 2.2 0.5 0.7 0.8 1.0" stroke-dashoffset="12.1"/>
<circle cx="420.4" cy="129.4" r="62.24" fill="none" stroke="#e6e6e6" stroke-width="3.42" opacity="0.6" stroke-dasharray="1.2 3.2 2.0 3.4 0.9 4.0 1.1 3.8 1.6 3.5 2.0 3.4 1.2 3.8 1.0 2.0 1.5 3.9 1.5 2.0 0.9 4.3 1.6 1.8 1.0 3.2 1.5 2.8 1.4 3.9 2.0 3.8 1.6 2.7 1.9 2.6 1.6 4.4 1.0 2.7 1.0 2.8 1.7 3.5 1.4 3.2 1.6 1.6 1.3 3.9 1.4 4.8 1.3 4.3 1.1 4.4 1.3 1.8 1.5 3.1 1.6 1.6 1.3 3.5 2.0 2.9 1.5 3.3 1.8 2.5 1.9 2.5 1.0 3.3 1.3 3.3 2.0 4.1 1.2 2.3 1.2 1.8 0.9 4.6 1.9 4.4 1.7 4.5 1.4 1.7 1.7 2.4 1.5 4.0 1.7 3.2 1.0 3.6 1.9 1.5 1.5 3.3 1.4 4.6 0.9 3.4 1.5 2.4 1.5 3.6 0.9 4.4 1.0 3.9 1.9 3.2 1.9 4.2 1.7 2.4 1.0 2.1 1.7 4.0 1.3 2.0 1.1 4.7 1.9 4.8 1.8 1.6 1.0 3.5 1.3 2.6 1.3 4.6 0.8 1.8 1.4 4.1 1.2 3.7 1.7 3.2 2.0 4.9 2.0 2.0 1.9 2.9 1.0 2.1 1.8 4.0 1.6 3.7 1.6 4.1" stroke-dashoffset="33.9"/>
<circle cx="420.4" cy="129.4" r="65.61" fill="none" stroke="#bcbcbc" stroke-width="3.42" opacity="0.85" stroke-dasharray="0.5 1.0 0.4 0.6 0.5 1.0 0.3 1.0 0.4 0.8 0.4 0.9 0.3 0.8 0.4 1.0 0.4 1.0 0.3 0.8 0.4 1.3 0.3 1.1 0.4 0.8 0.5 1.0 0.5 1.0 0.3 0.9 0.4 1.2 0.3 0.9 0.3 1.1 0.3 0.7 0.4 0.9 0.5 0.8 0.5 1.3 0.3 1.2 0.5 0.9 0.4 0.8 0.5 0.9 0.4 1.0 0.5 1.0 0.5 0.6 0.3 0.9 0.5 1.2 0.3 0.9 0.4 0.8 0.4 0.6 0.3 0.8 0.4 1.0 0.4 1.1 0.5 1.2 0.4 1.1 0.3 1.1 0.5 0.9 0.3 0.7 0.3 0.9 0.5 1.1 0.3 1.2 0.5 0.7 0.4 0.8 0.4 1.1 0.3 1.1 0.5 0.9 0.4 0.8 0.3 1.3 0.4 1.1 0.3 1.0 0.4 1.1 0.5 1.0 0.5 0.8 0.5 0.8 0.5 1.0 0.3 1.1 0.4 0.9 0.5 1.2 0.5 1.2 0.4 1.2 0.4 0.9 0.4 1.0 0.3 0.7 0.3 0.8 0.4 1.3 0.4 0.7 0.4 1.3 0.4 1.3 0.4 1.1 0.5 0.6 0.5 0.9 0.4 1.3 0.3 0.7 0.5 1.2 0.3 1.3" stroke-dashoffset="33.6"/>
<circle cx="420.4" cy="129.4" r="65.61" fill="none" stroke="#e6e6e6" stroke-width="3.42" opacity="0.6" stroke-dasharray="1.1 1.8 1.0 1.3 1.3 2.8 1.6 3.3 0.8 2.9 1.4 3.1 1.2 2.3 1.4 1.3 1.4 1.3 0.9 1.9 1.1 2.0 1.5 2.7 0.8 3.3 1.3 2.3 1.5 3.1 1.7 3.3 1.6 1.9 1.2 1.6 1.6 2.1 1.0 3.0 1.8 1.0 1.6 2.1 0.9 2.8 1.5 1.7 1.3 3.0 1.8 3.2 1.4 1.3 0.7 2.9 1.6 2.4 1.6 2.2 0.7 2.3 1.4 2.9 1.7 1.8 1.3 2.7 1.6 2.3 0.9 1.9 1.2 3.4 1.1 1.4 1.0 1.6 0.9 1.7 1.3 2.1 1.5 1.6 1.5 2.8 1.3 1.2 1.6 1.6 1.8 3.2 1.5 2.6 1.4 2.2 1.3 2.5 1.5 2.6 1.2 2.6 1.2 1.7 0.7 1.1 1.6 1.7 1.1 2.7 1.6 3.4 1.7 1.1 1.7 2.2 1.0 1.8 1.1 2.2 1.0 2.7 0.8 2.7 1.8 3.0 1.4 1.3 0.7 2.2 1.5 2.1 1.2 2.7 1.3 2.6 1.6 3.0 1.1 1.4 1.7 1.7 1.3 1.0 1.4 1.1 0.8 2.4 1.1 2.6 1.4 2.4 1.7 3.1 1.3 1.2 0.6 3.4 1.5 3.2" stroke-dashoffset="47.8"/>
<path d="M405.8,77.3L403.7,70.0M474.1,136.2L486.3,137.7M411.1,182.7L409.2,193.4M469.2,152.8L478.6,157.3M384.9,170.3L379.7,176.2M389.9,84.7L385.4,78.1M474.1,136.2L480.9,137.1M367.3,118.9L360.5,117.6M471.5,111.5L479.9,108.6M424.2,183.4L424.9,193.2M392.3,83.2L388.2,76.5M369.8,110.1L362.3,107.2M374.1,101.5L364.6,95.7M404.4,77.7L402.2,70.8M473.3,140.9L480.6,142.5M468.3,104.3L478.3,99.0M381.9,167.4L374.1,175.2M416.3,183.3L415.7,191.4M459.8,166.5L468.0,174.2M371.0,107.3L361.9,103.2M458.8,91.3L465.3,84.8M379.9,165.3L373.5,170.9M426.9,183.1L428.3,194.7M374.7,158.4L364.8,164.7M378.7,163.9L369.8,171.2M469.2,106.1L479.0,101.5M366.3,131.5L359.5,131.8M460.9,165.3L465.9,169.8M451.6,85.2L455.4,79.9M398.0,80.2L394.8,73.2M402.3,78.4L400.1,72.3M473.6,119.5L482.3,117.8M375.9,160.1L367.4,166.0M463.6,96.8L470.1,91.9M409.2,76.5L407.3,67.4M388.4,173.0L384.0,179.0M391.3,175.0L385.7,183.8M383.5,169.0L376.9,176.1M380.6,166.0L372.7,173.2M370.6,150.4L359.7,155.0M412.7,182.9L411.3,192.3M456.0,88.7L462.3,81.4M414.5,183.2L413.6,191.5M469.2,106.1L476.5,102.7M386.3,171.4L380.7,178.2" stroke="#acacac" stroke-width="0.45" opacity="0.5"/>
<circle cx="420.4" cy="129.4" r="67.05" fill="none" stroke="#b6b6b6" stroke-width="0.5"/>
<circle cx="420.4" cy="129.4" r="54.05" fill="none" stroke="#c4c4c4" stroke-width="0.5"/>
<circle cx="420" cy="129.5" r="105" fill="none" stroke="#000" stroke-width="1.1"/>
<path d="M531.78,127.35A111.8,111.8 0 0 1 531.80,130.09L525.00,130.05A105,105 0 0 0 524.98,127.48Z" fill="#0b1e8a" stroke="#111" stroke-width="0.45"/>
<path d="M524.90,124.92A105,105 0 0 1 524.97,127.12L518.17,127.27A98.2,98.2 0 0 0 518.11,125.22Z" fill="#0b1e8a" stroke="#111" stroke-width="0.45"/>
<path d="M531.46,120.73A111.8,111.8 0 0 1 531.64,123.45L524.85,123.82A105,105 0 0 0 524.68,121.26Z" fill="#0b1e8a" stroke="#111" stroke-width="0.45"/>
<path d="M518.99,77.53A111.8,111.8 0 0 1 531.46,120.73L524.68,121.26A105,105 0 0 0 512.97,80.69Z" fill="#fff000" stroke="#111" stroke-width="0.45"/>
<path d="M517.69,75.13A111.8,111.8 0 0 1 518.99,77.53L512.97,80.69A105,105 0 0 0 511.75,78.43Z" fill="#0b1e8a" stroke="#111" stroke-width="0.45"/>
<path d="M510.47,76.21A105,105 0 0 1 511.66,78.27L505.72,81.59A98.2,98.2 0 0 0 504.61,79.66Z" fill="#0b1e8a" stroke="#111" stroke-width="0.45"/>
<path d="M509.24,74.17A105,105 0 0 1 510.47,76.21L504.61,79.66A98.2,98.2 0 0 0 503.46,77.75Z" fill="#0b1e8a" stroke="#111" stroke-width="0.45"/>
<path d="M461.34,25.62A111.8,111.8 0 0 1 515.02,70.59L509.24,74.17A105,105 0 0 0 458.82,31.94Z" fill="#f5a8ef" stroke="#111" stroke-width="0.45"/>
<path d="M458.79,24.64A111.8,111.8 0 0 1 461.34,25.62L458.82,31.94A105,105 0 0 0 456.43,31.02Z" fill="#0b1e8a" stroke="#111" stroke-width="0.45"/>
<path d="M428.58,18.03A111.8,111.8 0 0 1 458.79,24.64L456.43,31.02A105,105 0 0 0 428.06,24.81Z" fill="#f5a8ef" stroke="#111" stroke-width="0.45"/>
<path d="M425.56,17.84A111.8,111.8 0 0 1 428.58,18.03L428.06,24.81A105,105 0 0 0 425.22,24.63Z" fill="#0b1e8a" stroke="#111" stroke-width="0.45"/>
<path d="M422.54,17.73A111.8,111.8 0 0 1 425.56,17.84L425.22,24.63A105,105 0 0 0 422.38,24.53Z" fill="#0b1e8a" stroke="#111" stroke-width="0.45"/>
<path d="M415.32,17.80A111.8,111.8 0 0 1 422.54,17.73L422.38,24.53A105,105 0 0 0 415.60,24.59Z" fill="#7ab51e" stroke="#111" stroke-width="0.45"/>
<path d="M386.20,22.93A111.8,111.8 0 0 1 415.32,17.80L415.60,24.59A105,105 0 0 0 388.25,29.41Z" fill="#7ab51e" stroke="#111" stroke-width="0.45"/>
<path d="M353.66,39.51A111.8,111.8 0 0 1 386.20,22.93L388.25,29.41A105,105 0 0 0 357.69,44.99Z" fill="#f5a8ef" stroke="#111" stroke-width="0.45"/>
<path d="M351.48,41.16A111.8,111.8 0 0 1 353.66,39.51L357.69,44.99A105,105 0 0 0 355.64,46.53Z" fill="#0b1e8a" stroke="#111" stroke-width="0.45"/>
<path d="M339.58,51.84A111.8,111.8 0 0 1 351.48,41.16L355.64,46.53A105,105 0 0 0 344.47,56.56Z" fill="#fff000" stroke="#111" stroke-width="0.45"/>
<path d="M337.47,54.08A111.8,111.8 0 0 1 339.58,51.84L344.47,56.56A105,105 0 0 0 342.49,58.67Z" fill="#0b1e8a" stroke="#111" stroke-width="0.45"/>
<path d="M335.42,56.39A111.8,111.8 0 0 1 337.47,54.08L342.49,58.67A105,105 0 0 0 340.56,60.84Z" fill="#0b1e8a" stroke="#111" stroke-width="0.45"/>
<path d="M333.44,58.75A111.8,111.8 0 0 1 335.42,56.39L340.56,60.84A105,105 0 0 0 338.70,63.05Z" fill="#0b1e8a" stroke="#111" stroke-width="0.45"/>
<path d="M331.52,61.16A111.8,111.8 0 0 1 333.44,58.75L338.70,63.05A105,105 0 0 0 336.90,65.32Z" fill="#0b1e8a" stroke="#111" stroke-width="0.45"/>
<path d="M329.67,63.63A111.8,111.8 0 0 1 331.52,61.16L336.90,65.32A105,105 0 0 0 335.16,67.63Z" fill="#0b1e8a" stroke="#111" stroke-width="0.45"/>
<path d="M333.47,70.03A105,105 0 0 1 334.95,67.93L340.45,71.92A98.2,98.2 0 0 0 339.07,73.88Z" fill="#0b1e8a" stroke="#111" stroke-width="0.45"/>
<path d="M315.42,138.83A105,105 0 0 1 333.47,70.03L339.07,73.88A98.2,98.2 0 0 0 322.19,138.23Z" fill="#fff000" stroke="#111" stroke-width="0.45"/>
<path d="M315.78,142.30A105,105 0 0 1 315.52,139.93L322.29,139.25A98.2,98.2 0 0 0 322.53,141.47Z" fill="#0b1e8a" stroke="#111" stroke-width="0.45"/>
<path d="M340.16,197.69A105,105 0 0 1 316.24,145.56L322.96,144.52A98.2,98.2 0 0 0 345.33,193.28Z" fill="#fff000" stroke="#111" stroke-width="0.45"/>
<path d="M348.79,206.67A105,105 0 0 1 340.16,197.69L345.33,193.28A98.2,98.2 0 0 0 353.40,201.67Z" fill="#fff000" stroke="#111" stroke-width="0.45"/>
<path d="M345.05,212.45A111.8,111.8 0 0 1 343.04,210.60L347.72,205.66A105,105 0 0 0 349.61,207.41Z" fill="#0b1e8a" stroke="#111" stroke-width="0.45"/>
<path d="M350.70,208.38A105,105 0 0 1 348.79,206.67L353.40,201.67A98.2,98.2 0 0 0 355.19,203.27Z" fill="#0b1e8a" stroke="#111" stroke-width="0.45"/>
<path d="M364.10,226.32A111.8,111.8 0 0 1 346.21,213.49L350.70,208.38A105,105 0 0 0 367.50,220.43Z" fill="#fff000" stroke="#111" stroke-width="0.45"/>
<path d="M414.34,241.16A111.8,111.8 0 0 1 364.10,226.32L367.50,220.43A105,105 0 0 0 414.69,234.37Z" fill="#cc2fb8" stroke="#111" stroke-width="0.45"/>
<path d="M417.07,241.26A111.8,111.8 0 0 1 414.34,241.16L414.69,234.37A105,105 0 0 0 417.25,234.46Z" fill="#0b1e8a" stroke="#111" stroke-width="0.45"/>
<path d="M457.11,227.72A105,105 0 0 1 419.08,234.50L419.14,227.70A98.2,98.2 0 0 0 454.71,221.36Z" fill="#fff000" stroke="#111" stroke-width="0.45"/>
<path d="M459.50,226.79A105,105 0 0 1 457.11,227.72L454.71,221.36A98.2,98.2 0 0 0 456.95,220.49Z" fill="#0b1e8a" stroke="#111" stroke-width="0.45"/>
<path d="M502.17,194.86A105,105 0 0 1 459.50,226.79L456.95,220.49A98.2,98.2 0 0 0 496.85,190.63Z" fill="#f20d1a" stroke="#111" stroke-width="0.45"/>
<path d="M503.75,192.84A105,105 0 0 1 502.17,194.86L496.85,190.63A98.2,98.2 0 0 0 498.32,188.74Z" fill="#0b1e8a" stroke="#111" stroke-width="0.45"/>
<path d="M519.46,163.16A105,105 0 0 1 503.75,192.84L498.32,188.74A98.2,98.2 0 0 0 513.02,160.98Z" fill="#f20d1a" stroke="#111" stroke-width="0.45"/>
<g font-family="Liberation Sans, Arial, sans-serif"><text x="329.62" y="61.67" transform="rotate(396.89 329.62 61.67)" text-anchor="end" dominant-baseline="central" font-size="3.7" fill="#2a2a2a" stroke="#2a2a2a" stroke-width="0.12">tRNA-Glu</text>
<text x="331.53" y="59.20" transform="rotate(398.47 331.53 59.20)" text-anchor="end" dominant-baseline="central" font-size="3.7" fill="#2a2a2a" stroke="#2a2a2a" stroke-width="0.12">tRNA-Ser</text>
<text x="333.50" y="56.79" transform="rotate(400.05 333.50 56.79)" text-anchor="end" dominant-baseline="central" font-size="3.7" fill="#2a2a2a" stroke="#2a2a2a" stroke-width="0.12">tRNA-Asn</text>
<text x="335.54" y="54.43" transform="rotate(401.63 335.54 54.43)" text-anchor="end" dominant-baseline="central" font-size="3.7" fill="#2a2a2a" stroke="#2a2a2a" stroke-width="0.12">tRNA-Arg</text>
<text x="337.64" y="52.13" transform="rotate(403.21 337.64 52.13)" text-anchor="end" dominant-baseline="central" font-size="3.7" fill="#2a2a2a" stroke="#2a2a2a" stroke-width="0.12">tRNA-Ala</text>
<text x="344.53" y="45.39" transform="rotate(408.10 344.53 45.39)" text-anchor="end" dominant-baseline="central" font-size="3.7" fill="#2a2a2a" stroke="#2a2a2a" stroke-width="0.12">ND3</text>
<text x="351.84" y="39.37" transform="rotate(412.90 351.84 39.37)" text-anchor="end" dominant-baseline="central" font-size="3.7" fill="#2a2a2a" stroke="#2a2a2a" stroke-width="0.12">tRNA-Gly</text>
<text x="368.70" y="28.82" transform="rotate(423.00 368.70 28.82)" text-anchor="end" dominant-baseline="central" font-size="3.7" fill="#2a2a2a" stroke="#2a2a2a" stroke-width="0.12">COX3</text>
<text x="400.38" y="18.22" transform="rotate(440.00 400.38 18.22)" text-anchor="end" dominant-baseline="central" font-size="3.7" fill="#2a2a2a" stroke="#2a2a2a" stroke-width="0.12">ATP6</text>
<text x="418.92" y="16.51" transform="rotate(449.45 418.92 16.51)" text-anchor="end" dominant-baseline="central" font-size="3.7" fill="#2a2a2a" stroke="#2a2a2a" stroke-width="0.12">ATP8</text>
<text x="424.09" y="16.57" transform="rotate(-87.92 424.09 16.57)" text-anchor="start" dominant-baseline="central" font-size="3.7" fill="#2a2a2a" stroke="#2a2a2a" stroke-width="0.12">tRNA-Asp</text>
<text x="427.14" y="16.73" transform="rotate(-86.38 427.14 16.73)" text-anchor="start" dominant-baseline="central" font-size="3.7" fill="#2a2a2a" stroke="#2a2a2a" stroke-width="0.12">tRNA-Lys</text>
<text x="444.17" y="19.11" transform="rotate(-77.65 444.17 19.11)" text-anchor="start" dominant-baseline="central" font-size="3.7" fill="#2a2a2a" stroke="#2a2a2a" stroke-width="0.12">COX2</text>
<text x="460.50" y="24.01" transform="rotate(-69.00 460.50 24.01)" text-anchor="start" dominant-baseline="central" font-size="3.7" fill="#2a2a2a" stroke="#2a2a2a" stroke-width="0.12">tRNA-Leu</text>
<text x="492.56" y="42.87" transform="rotate(-50.05 492.56 42.87)" text-anchor="start" dominant-baseline="central" font-size="3.7" fill="#2a2a2a" stroke="#2a2a2a" stroke-width="0.12">COX1</text>
<text x="519.40" y="75.75" transform="rotate(-28.40 519.40 75.75)" text-anchor="start" dominant-baseline="central" font-size="3.7" fill="#2a2a2a" stroke="#2a2a2a" stroke-width="0.12">tRNA-Trp</text>
<text x="528.57" y="98.16" transform="rotate(-16.10 528.57 98.16)" text-anchor="start" dominant-baseline="central" font-size="3.7" fill="#2a2a2a" stroke="#2a2a2a" stroke-width="0.12">ND2</text>
<text x="532.75" y="122.01" transform="rotate(-3.80 532.75 122.01)" text-anchor="start" dominant-baseline="central" font-size="3.7" fill="#2a2a2a" stroke="#2a2a2a" stroke-width="0.12">tRNA-Met</text>
<text x="533.00" y="128.71" transform="rotate(-0.40 533.00 128.71)" text-anchor="start" dominant-baseline="central" font-size="3.7" fill="#2a2a2a" stroke="#2a2a2a" stroke-width="0.12">tRNA-Ile</text>
<text x="415.66" y="242.42" transform="rotate(272.20 415.66 242.42)" text-anchor="end" dominant-baseline="central" font-size="3.7" fill="#2a2a2a" stroke="#2a2a2a" stroke-width="0.12">tRNA-Ser</text>
<text x="388.00" y="237.87" transform="rotate(286.45 388.00 237.87)" text-anchor="end" dominant-baseline="central" font-size="3.7" fill="#2a2a2a" stroke="#2a2a2a" stroke-width="0.12">CYTB</text>
<text x="354.14" y="221.32" transform="rotate(305.65 354.14 221.32)" text-anchor="end" dominant-baseline="central" font-size="3.7" fill="#2a2a2a" stroke="#2a2a2a" stroke-width="0.12">ND6</text>
<text x="343.22" y="212.41" transform="rotate(312.80 343.22 212.41)" text-anchor="end" dominant-baseline="central" font-size="3.7" fill="#2a2a2a" stroke="#2a2a2a" stroke-width="0.12">tRNA-Thr</text>
<text x="326.18" y="104.89" transform="rotate(374.70 326.18 104.89)" text-anchor="start" dominant-baseline="central" font-size="3.7" fill="#2a2a2a" stroke="#2a2a2a" stroke-width="0.12">ND5</text>
<text x="340.74" y="73.59" transform="rotate(395.20 340.74 73.59)" text-anchor="start" dominant-baseline="central" font-size="3.7" fill="#2a2a2a" stroke="#2a2a2a" stroke-width="0.12">tRNA-Phe</text>
<text x="502.71" y="78.82" transform="rotate(-31.50 502.71 78.82)" text-anchor="end" dominant-baseline="central" font-size="3.7" fill="#2a2a2a" stroke="#2a2a2a" stroke-width="0.12">tRNA-Tyr</text>
<text x="504.42" y="81.73" transform="rotate(-29.50 504.42 81.73)" text-anchor="end" dominant-baseline="central" font-size="3.7" fill="#2a2a2a" stroke="#2a2a2a" stroke-width="0.12">tRNA-Cys</text>
<text x="516.95" y="126.28" transform="rotate(-1.90 516.95 126.28)" text-anchor="end" dominant-baseline="central" font-size="3.7" fill="#2a2a2a" stroke="#2a2a2a" stroke-width="0.12">tRNA-Gln</text>
<text x="505.73" y="174.89" transform="rotate(27.90 505.73 174.89)" text-anchor="end" dominant-baseline="central" font-size="3.7" fill="#2a2a2a" stroke="#2a2a2a" stroke-width="0.12">12S ribosomal RNA</text>
<text x="496.65" y="188.95" transform="rotate(37.80 496.65 188.95)" text-anchor="end" dominant-baseline="central" font-size="3.7" fill="#2a2a2a" stroke="#2a2a2a" stroke-width="0.12">tRNA-Val</text>
<text x="478.11" y="207.17" transform="rotate(53.20 478.11 207.17)" text-anchor="end" dominant-baseline="central" font-size="3.7" fill="#2a2a2a" stroke="#2a2a2a" stroke-width="0.12">16S ribosomal RNA</text>
<text x="455.39" y="219.81" transform="rotate(68.60 455.39 219.81)" text-anchor="end" dominant-baseline="central" font-size="3.7" fill="#2a2a2a" stroke="#2a2a2a" stroke-width="0.12">tRNA-Leu</text>
<text x="437.01" y="225.00" transform="rotate(79.90 437.01 225.00)" text-anchor="end" dominant-baseline="central" font-size="3.7" fill="#2a2a2a" stroke="#2a2a2a" stroke-width="0.12">ND1</text>
<text x="355.09" y="201.59" transform="rotate(312.00 355.09 201.59)" text-anchor="start" dominant-baseline="central" font-size="3.7" fill="#2a2a2a" stroke="#2a2a2a" stroke-width="0.12">tRNA-Pro</text>
<text x="350.11" y="196.76" transform="rotate(316.10 350.11 196.76)" text-anchor="start" dominant-baseline="central" font-size="3.7" fill="#2a2a2a" stroke="#2a2a2a" stroke-width="0.12">ND4L</text>
<text x="331.84" y="169.96" transform="rotate(335.35 331.84 169.96)" text-anchor="start" dominant-baseline="central" font-size="3.7" fill="#2a2a2a" stroke="#2a2a2a" stroke-width="0.12">ND4</text>
<text x="323.60" y="140.23" transform="rotate(353.65 323.60 140.23)" text-anchor="start" dominant-baseline="central" font-size="3.7" fill="#2a2a2a" stroke="#2a2a2a" stroke-width="0.12">tRNA-His</text></g>
<circle cx="263.6" cy="376.2" r="62.30" fill="none" stroke="#d3d3d3" stroke-width="14.20"/>
<circle cx="263.6" cy="376.2" r="56.98" fill="none" stroke="#b8b8b8" stroke-width="3.60" opacity="0.8" stroke-dasharray="0.5 2.1 1.2 1.4 1.2 1.5 0.9 2.4 0.6 0.7 0.5 0.7 0.8 0.8 0.5 1.2 0.7 2.4 0.4 1.9 1.1 2.1 0.5 0.9 0.7 0.6 1.2 2.1 1.0 1.9 1.2 1.4 0.4 1.3 0.7 2.2 0.4 2.3 0.7 0.7 0.9 2.3 0.9 2.1 0.8 1.4 0.4 2.3 0.9 0.9 0.6 1.7 1.0 2.5 0.7 1.7 1.0 0.7 1.2 1.4 1.2 2.4 1.1 0.9 0.8 1.6 0.7 1.6 0.6 1.8 1.0 2.0 1.0 2.2 0.7 1.9 1.0 0.7 0.9 1.5 0.5 1.2 1.0 1.9 0.8 2.4 0.9 0.6 0.9 1.6 1.0 1.8 1.0 0.7 1.0 1.0 0.5 2.1 1.1 2.5 0.7 2.5 0.9 2.0 1.1 2.3 0.5 1.8 0.9 1.9 0.7 2.5 0.6 2.3 0.6 0.8 0.5 2.4 0.4 1.2 1.0 1.2 1.2 2.3 0.8 2.0 1.1 2.0 1.1 1.2 0.9 1.1 0.4 2.1 0.7 0.6 0.8 2.0 0.5 1.2 1.1 1.8 0.5 2.1 0.6 1.4 1.2 2.6 0.4 0.7 0.9 1.4 0.6 1.3 1.1 1.0 0.9 1.6 0.7 1.5" stroke-dashoffset="31.9"/>
<circle cx="263.6" cy="376.2" r="56.98" fill="none" stroke="#e4e4e4" stroke-width="3.60" opacity="0.6" stroke-dasharray="0.6 4.5 0.5 2.0 0.6 3.4 0.8 4.2 0.6 5.3 0.9 5.5 0.9 2.9 1.2 4.3 0.7 4.4 0.9 4.9 0.6 5.6 0.9 3.9 0.5 2.8 1.0 3.8 0.9 4.5 0.8 2.0 0.5 5.5 0.9 5.4 1.0 4.6 0.7 4.9 0.9 4.2 0.8 4.8 1.1 5.7 1.2 2.3 0.9 3.5 0.6 4.2 0.5 2.2 1.0 5.3 0.9 5.1 1.1 2.6 0.7 4.1 0.7 5.0 0.9 3.1 1.2 3.2 0.9 4.9 1.1 2.5 0.7 5.9 0.9 3.2 0.9 4.3 0.9 2.8 0.8 2.2 1.0 5.1 0.6 2.9 1.0 4.9 0.6 4.6 0.8 2.2 1.0 2.5 0.8 2.8 1.0 3.6 1.2 2.0 0.8 4.7 0.6 4.6 0.5 4.4 0.6 2.4 1.0 5.7 0.9 2.5 1.0 2.3 1.1 3.1 0.9 2.2 0.6 4.2 0.9 4.1 0.6 3.4 0.8 3.7 0.6 5.6 0.7 2.4 0.6 3.1 0.7 3.8 1.1 3.2 0.7 5.2 1.1 3.8 1.0 3.1 1.0 4.6 0.5 4.5 0.8 4.5 1.1 4.4 0.8 5.5 0.7 2.4 0.9 5.7 1.0 5.4 1.0 5.0" stroke-dashoffset="44.0"/>
<circle cx="263.6" cy="376.2" r="60.53" fill="none" stroke="#adadad" stroke-width="3.60" opacity="0.8" stroke-dasharray="1.3 1.3 1.1 1.5 0.8 1.0 0.6 1.0 0.5 1.8 1.0 1.9 0.5 1.5 0.5 1.1 0.5 1.9 1.2 0.9 0.5 1.2 1.2 0.9 1.2 1.7 0.5 2.1 0.4 0.7 0.7 1.1 0.9 1.4 0.8 2.2 1.2 1.1 1.1 1.9 0.8 2.1 1.1 1.3 1.0 0.8 0.7 1.4 1.0 0.5 1.2 1.2 0.5 2.2 0.9 1.0 1.0 0.5 0.5 2.2 0.7 1.2 0.9 1.1 0.5 0.9 0.4 2.0 1.2 1.1 0.5 2.1 0.8 1.7 0.6 0.6 0.7 0.6 1.1 0.6 0.5 0.6 0.7 1.2 0.6 2.1 0.8 1.1 0.7 0.9 0.9 1.0 1.1 1.1 0.6 1.6 0.9 1.4 1.1 1.5 0.8 2.0 0.6 1.8 1.1 1.7 0.8 1.2 0.6 2.0 0.4 0.8 0.6 1.1 0.9 1.8 0.5 2.2 0.9 1.6 0.9 2.1 1.0 1.9 1.0 1.9 0.7 0.9 1.2 0.6 1.1 1.0 1.1 1.1 1.0 1.2 0.4 1.7 0.7 1.1 1.3 1.8 0.9 0.9 1.3 1.1 0.4 0.8 1.2 0.7 0.7 1.6 1.0 2.2 0.9 1.3 1.0 2.1 0.8 0.7" stroke-dashoffset="44.6"/>
<circle cx="263.6" cy="376.2" r="60.53" fill="none" stroke="#e2e2e2" stroke-width="3.60" opacity="0.5" stroke-dasharray="0.9 4.2 0.5 5.0 1.1 4.3 1.1 4.8 0.6 6.0 1.1 3.3 1.1 5.9 0.6 3.5 1.1 5.3 0.5 2.1 1.0 3.9 1.1 3.6 1.1 3.0 0.8 4.0 0.8 2.6 1.0 2.6 1.2 5.4 0.9 4.7 0.7 2.7 0.5 5.1 0.8 5.6 0.6 2.4 0.7 5.8 1.2 5.3 0.6 3.9 0.8 3.3 0.5 4.9 0.7 4.0 1.0 3.5 1.0 4.6 0.9 5.8 0.5 2.6 0.8 3.8 1.0 2.0 0.6 3.5 1.0 4.3 0.5 3.5 0.9 2.1 0.5 2.1 1.2 2.9 1.2 4.5 1.0 2.5 0.8 5.4 1.1 5.1 0.7 3.5 0.5 4.1 1.1 5.1 1.1 5.5 0.9 5.4 0.5 5.9 1.1 2.3 1.1 4.2 0.9 4.4 0.5 2.5 0.6 2.1 0.9 6.0 0.7 6.0 0.5 3.1 1.0 3.7 0.7 3.0 0.9 3.8 0.9 5.2 0.7 5.7 0.7 4.9 0.6 4.2 0.7 4.1 1.2 5.5 0.7 3.2 1.1 3.1 0.7 2.4 0.9 2.9 1.2 2.5 0.9 4.8 0.9 3.4 1.1 5.6 1.0 5.8 0.6 2.2 1.1 4.7 0.6 4.7 0.7 3.9" stroke-dashoffset="28.5"/>
<circle cx="263.6" cy="376.2" r="64.08" fill="none" stroke="#b6b6b6" stroke-width="3.60" opacity="0.75" stroke-dasharray="0.5 1.3 0.7 1.3 0.8 2.0 0.9 1.4 0.6 1.6 0.8 1.6 0.9 1.0 0.7 1.1 0.7 1.6 0.8 0.8 0.9 0.6 0.9 1.7 0.7 2.4 0.6 1.0 0.5 2.4 0.8 1.3 0.6 1.2 0.4 0.6 0.9 0.9 0.7 1.4 0.7 1.1 0.7 1.3 0.5 1.4 0.7 1.9 0.9 1.4 0.5 1.6 0.6 0.7 0.6 1.4 0.4 2.0 0.7 0.6 0.6 1.1 0.6 0.8 0.8 2.1 0.4 2.2 0.9 2.3 0.6 1.4 0.9 1.9 1.0 1.9 0.8 1.5 0.5 1.0 0.7 1.5 0.8 2.2 1.0 2.3 0.6 2.3 0.8 1.7 0.7 0.7 0.5 1.3 0.7 1.9 0.7 2.3 1.0 1.4 0.9 2.0 0.7 1.3 0.9 2.1 0.7 1.7 0.9 2.3 0.9 1.3 0.6 1.0 0.9 2.4 0.6 2.2 0.5 1.6 0.7 1.3 0.8 1.7 0.4 1.3 0.9 1.6 0.5 1.4 0.7 0.7 0.4 2.2 0.7 1.2 0.5 2.3 0.6 0.8 0.5 0.6 1.0 1.2 0.7 0.7 0.4 2.3 0.6 2.4 1.0 1.6 0.5 1.5 0.5 0.9 0.8 2.1 0.6 0.7" stroke-dashoffset="43.8"/>
<circle cx="263.6" cy="376.2" r="64.08" fill="none" stroke="#e6e6e6" stroke-width="3.60" opacity="0.6" stroke-dasharray="1.4 3.8 1.0 3.7 1.1 3.5 1.2 4.3 1.3 3.4 1.0 3.6 1.1 4.9 1.8 3.4 1.9 4.6 1.7 3.2 1.3 4.2 1.9 3.8 1.3 4.8 1.0 1.9 1.9 3.3 1.6 1.9 1.9 2.5 1.3 2.4 1.5 3.1 1.7 3.6 1.9 3.0 1.4 2.1 0.8 4.8 1.9 2.6 1.8 2.8 1.3 2.5 1.6 4.0 1.0 4.8 0.8 3.5 0.9 2.9 1.6 2.9 1.4 3.1 1.6 4.5 1.5 4.0 1.2 2.4 1.7 2.0 1.9 4.3 1.7 3.0 1.5 4.9 1.8 2.9 1.6 3.8 1.1 3.7 1.6 2.1 1.4 4.6 1.5 4.7 1.1 2.6 1.7 3.6 1.3 3.4 1.2 4.5 2.0 3.8 1.1 1.5 1.8 3.6 1.3 4.9 1.0 4.8 1.6 2.2 1.9 2.0 1.6 2.8 1.9 2.0 1.0 3.3 1.6 4.1 1.6 4.7 1.9 2.8 1.4 3.3 1.7 4.0 1.9 2.7 1.7 3.1 1.6 3.0 1.7 2.9 1.8 3.5 1.1 2.8 1.1 3.5 1.2 4.4 1.8 4.7 2.0 4.7 1.2 2.3 1.1 2.9 1.8 1.9 1.9 3.1 1.6 4.6 1.3 2.7" stroke-dashoffset="41.9"/>
<circle cx="263.6" cy="376.2" r="67.62" fill="none" stroke="#bcbcbc" stroke-width="3.60" opacity="0.85" stroke-dasharray="0.4 0.7 0.5 0.8 0.3 1.0 0.3 0.7 0.5 1.2 0.5 1.1 0.5 1.2 0.4 1.0 0.3 1.1 0.3 1.0 0.5 1.1 0.5 1.0 0.4 1.0 0.5 0.8 0.5 1.2 0.4 0.9 0.4 1.2 0.4 0.8 0.4 1.3 0.4 0.8 0.5 0.8 0.5 1.1 0.4 1.0 0.4 1.0 0.3 1.2 0.4 0.9 0.5 1.0 0.4 1.2 0.4 0.7 0.4 1.0 0.4 1.2 0.5 0.7 0.3 1.1 0.4 1.3 0.4 1.2 0.3 1.1 0.5 1.1 0.4 1.3 0.5 0.7 0.4 1.1 0.5 1.2 0.4 1.3 0.5 0.9 0.4 0.9 0.4 0.8 0.4 0.9 0.4 1.2 0.3 0.7 0.5 1.1 0.4 0.9 0.5 1.0 0.3 0.6 0.5 0.8 0.3 1.1 0.5 1.0 0.4 0.7 0.4 0.8 0.4 0.7 0.5 1.1 0.3 1.1 0.3 1.2 0.4 1.0 0.5 1.0 0.4 1.1 0.4 0.7 0.5 0.9 0.4 1.0 0.3 1.1 0.4 0.9 0.4 0.9 0.3 1.2 0.3 0.8 0.4 1.3 0.4 1.0 0.3 0.9 0.4 0.9 0.5 0.7 0.4 1.1 0.5 0.9 0.5 0.8" stroke-dashoffset="17.9"/>
<circle cx="263.6" cy="376.2" r="67.62" fill="none" stroke="#e6e6e6" stroke-width="3.60" opacity="0.6" stroke-dasharray="1.5 3.4 1.4 1.3 1.6 3.2 1.3 3.3 1.2 1.5 0.9 2.5 1.1 3.2 1.3 2.4 1.2 2.5 1.7 1.2 0.7 2.3 1.3 3.4 0.7 2.8 1.3 2.5 0.8 3.5 1.7 3.3 0.7 2.5 0.9 3.1 1.7 1.1 1.1 2.8 0.6 1.3 1.0 1.0 1.3 3.1 0.9 1.6 0.8 1.6 1.2 1.3 0.7 1.5 1.6 1.9 1.5 2.6 1.7 2.3 0.8 2.7 1.1 3.1 1.4 3.0 1.6 2.7 1.1 1.1 1.1 1.1 1.7 1.1 1.0 2.6 0.9 2.5 1.2 2.8 0.9 3.0 0.9 3.3 1.2 3.1 1.5 2.8 0.9 2.6 1.4 3.5 0.8 1.2 0.9 1.8 0.8 1.2 1.0 1.5 1.3 1.7 1.2 2.7 1.5 2.9 0.7 2.9 1.5 3.3 1.1 3.4 1.7 3.3 1.7 2.0 1.5 1.7 1.8 1.9 1.7 1.5 1.5 2.9 1.1 1.0 1.8 1.9 1.7 2.6 1.2 2.0 0.6 1.1 1.3 2.5 1.5 2.2 1.2 2.9 1.7 2.9 1.2 2.8 0.7 3.1 1.6 1.2 0.7 1.7 1.1 1.8 0.9 1.7 1.7 1.4 1.8 1.7 1.6 2.8" stroke-dashoffset="17.4"/>
<path d="M222.4,339.0L215.5,332.7M304.9,413.2L310.8,418.5M291.5,424.2L296.6,433.0M295.9,331.1L300.4,324.7M236.7,327.6L233.0,320.9M232.7,330.1L228.2,323.4M275.7,322.0L278.2,310.7M240.3,325.8L237.1,319.1M299.7,334.0L308.0,324.3M216.8,346.4L210.5,342.5M306.8,341.4L313.0,336.4M318.8,370.8L329.8,369.7M218.5,408.5L209.6,414.8M239.6,426.2L236.1,433.4M212.3,355.0L204.8,351.9M215.8,348.1L206.8,342.8M224.3,337.0L217.9,330.6M284.9,427.5L287.6,433.9M281.6,323.7L284.6,315.0M263.6,431.7L263.7,438.5M225.2,416.3L217.1,424.9M317.9,364.9L325.6,363.4M253.4,430.8L251.3,441.7M235.6,328.3L229.9,318.6M316.1,358.2L326.7,354.6M278.4,322.7L280.5,315.2M319.1,377.9L330.0,378.3M295.2,330.6L301.3,321.7M315.6,395.5L325.0,399.0M315.1,355.5L324.6,351.7M280.0,429.2L282.0,435.9M300.6,417.5L308.8,426.7M212.6,354.4L204.0,350.7M273.7,321.6L275.8,310.4M220.6,341.1L210.8,333.1M299.1,418.8L306.8,428.1M226.9,417.8L219.0,426.8M314.4,398.5L324.5,402.9M215.9,347.8L205.6,341.6M216.3,405.3L205.7,411.8M239.4,426.2L234.2,437.0M318.3,385.9L326.8,387.4M286.9,426.6L292.4,438.5M300.2,417.9L307.7,426.5M315.2,355.9L327.2,351.2" stroke="#acacac" stroke-width="0.45" opacity="0.5"/>
<circle cx="263.6" cy="376.2" r="69.15" fill="none" stroke="#b6b6b6" stroke-width="0.5"/>
<circle cx="263.6" cy="376.2" r="55.45" fill="none" stroke="#c4c4c4" stroke-width="0.5"/>
<circle cx="263.7" cy="376.5" r="108" fill="none" stroke="#000" stroke-width="1.1"/>
<path d="M378.46,373.49A114.8,114.8 0 0 1 378.50,376.30L371.70,376.31A108,108 0 0 0 371.66,373.67Z" fill="#0b1e8a" stroke="#111" stroke-width="0.45"/>
<path d="M371.55,370.85A108,108 0 0 1 371.66,373.48L364.86,373.67A101.2,101.2 0 0 0 364.76,371.20Z" fill="#0b1e8a" stroke="#111" stroke-width="0.45"/>
<path d="M378.15,367.49A114.8,114.8 0 0 1 378.33,370.29L371.54,370.66A108,108 0 0 0 371.37,368.03Z" fill="#0b1e8a" stroke="#111" stroke-width="0.45"/>
<path d="M366.79,325.99A114.8,114.8 0 0 1 378.15,367.49L371.37,368.03A108,108 0 0 0 360.69,328.99Z" fill="#fff000" stroke="#111" stroke-width="0.45"/>
<path d="M365.53,323.49A114.8,114.8 0 0 1 366.79,325.99L360.69,328.99A108,108 0 0 0 359.50,326.63Z" fill="#0b1e8a" stroke="#111" stroke-width="0.45"/>
<path d="M358.07,323.98A108,108 0 0 1 359.23,326.13L353.22,329.30A101.2,101.2 0 0 0 352.13,327.28Z" fill="#0b1e8a" stroke="#111" stroke-width="0.45"/>
<path d="M356.85,321.85A108,108 0 0 1 358.07,323.98L352.13,327.28A101.2,101.2 0 0 0 350.99,325.29Z" fill="#0b1e8a" stroke="#111" stroke-width="0.45"/>
<path d="M315.64,274.12A114.8,114.8 0 0 1 362.72,318.41L356.85,321.85A108,108 0 0 0 312.56,280.19Z" fill="#f5a8ef" stroke="#111" stroke-width="0.45"/>
<path d="M313.12,272.88A114.8,114.8 0 0 1 315.64,274.12L312.56,280.19A108,108 0 0 0 310.20,279.02Z" fill="#0b1e8a" stroke="#111" stroke-width="0.45"/>
<path d="M284.82,263.66A114.8,114.8 0 0 1 313.12,272.88L310.20,279.02A108,108 0 0 0 283.57,270.34Z" fill="#f5a8ef" stroke="#111" stroke-width="0.45"/>
<path d="M281.66,263.11A114.8,114.8 0 0 1 284.82,263.66L283.57,270.34A108,108 0 0 0 280.59,269.83Z" fill="#0b1e8a" stroke="#111" stroke-width="0.45"/>
<path d="M278.49,262.66A114.8,114.8 0 0 1 281.66,263.11L280.59,269.83A108,108 0 0 0 277.61,269.40Z" fill="#0b1e8a" stroke="#111" stroke-width="0.45"/>
<path d="M273.31,262.10A114.8,114.8 0 0 1 278.49,262.66L277.61,269.40A108,108 0 0 0 272.74,268.88Z" fill="#7ab51e" stroke="#111" stroke-width="0.45"/>
<path d="M243.96,263.41A114.8,114.8 0 0 1 273.31,262.10L272.74,268.88A108,108 0 0 0 245.13,270.11Z" fill="#7ab51e" stroke="#111" stroke-width="0.45"/>
<path d="M212.30,273.85A114.8,114.8 0 0 1 243.96,263.41L245.13,270.11A108,108 0 0 0 215.34,279.93Z" fill="#f5a8ef" stroke="#111" stroke-width="0.45"/>
<path d="M209.80,275.14A114.8,114.8 0 0 1 212.30,273.85L215.34,279.93A108,108 0 0 0 213.00,281.14Z" fill="#0b1e8a" stroke="#111" stroke-width="0.45"/>
<path d="M197.36,282.81A114.8,114.8 0 0 1 209.80,275.14L213.00,281.14A108,108 0 0 0 201.29,288.36Z" fill="#fff000" stroke="#111" stroke-width="0.45"/>
<path d="M195.12,284.43A114.8,114.8 0 0 1 197.36,282.81L201.29,288.36A108,108 0 0 0 199.19,289.89Z" fill="#0b1e8a" stroke="#111" stroke-width="0.45"/>
<path d="M192.93,286.11A114.8,114.8 0 0 1 195.12,284.43L199.19,289.89A108,108 0 0 0 197.12,291.46Z" fill="#0b1e8a" stroke="#111" stroke-width="0.45"/>
<path d="M190.77,287.84A114.8,114.8 0 0 1 192.93,286.11L197.12,291.46A108,108 0 0 0 195.09,293.09Z" fill="#0b1e8a" stroke="#111" stroke-width="0.45"/>
<path d="M188.66,289.62A114.8,114.8 0 0 1 190.77,287.84L195.09,293.09A108,108 0 0 0 193.10,294.77Z" fill="#0b1e8a" stroke="#111" stroke-width="0.45"/>
<path d="M186.59,291.46A114.8,114.8 0 0 1 188.66,289.62L193.10,294.77A108,108 0 0 0 191.15,296.49Z" fill="#0b1e8a" stroke="#111" stroke-width="0.45"/>
<path d="M188.41,299.07A108,108 0 0 1 190.32,297.26L194.94,302.25A101.2,101.2 0 0 0 193.15,303.95Z" fill="#0b1e8a" stroke="#111" stroke-width="0.45"/>
<path d="M156.83,360.91A108,108 0 0 1 188.41,299.07L193.15,303.95A101.2,101.2 0 0 0 163.56,361.89Z" fill="#fff000" stroke="#111" stroke-width="0.45"/>
<path d="M156.48,363.53A108,108 0 0 1 156.83,360.91L163.56,361.89A101.2,101.2 0 0 0 163.23,364.34Z" fill="#0b1e8a" stroke="#111" stroke-width="0.45"/>
<path d="M163.35,416.43A108,108 0 0 1 156.48,363.53L163.23,364.34A101.2,101.2 0 0 0 169.67,413.92Z" fill="#fff000" stroke="#111" stroke-width="0.45"/>
<path d="M168.25,427.04A108,108 0 0 1 163.35,416.43L169.67,413.92A101.2,101.2 0 0 0 174.26,423.85Z" fill="#fff000" stroke="#111" stroke-width="0.45"/>
<path d="M162.81,431.28A114.8,114.8 0 0 1 161.50,428.80L167.56,425.70A108,108 0 0 0 168.79,428.03Z" fill="#0b1e8a" stroke="#111" stroke-width="0.45"/>
<path d="M169.52,429.35A108,108 0 0 1 168.25,427.04L174.26,423.85A101.2,101.2 0 0 0 175.45,426.03Z" fill="#0b1e8a" stroke="#111" stroke-width="0.45"/>
<path d="M176.02,450.60A114.8,114.8 0 0 1 163.59,432.68L169.52,429.35A108,108 0 0 0 181.21,446.21Z" fill="#fff000" stroke="#111" stroke-width="0.45"/>
<path d="M214.64,480.29A114.8,114.8 0 0 1 176.02,450.60L181.21,446.21A108,108 0 0 0 217.55,474.14Z" fill="#cc2fb8" stroke="#111" stroke-width="0.45"/>
<path d="M217.19,481.46A114.8,114.8 0 0 1 214.64,480.29L217.55,474.14A108,108 0 0 0 219.94,475.24Z" fill="#0b1e8a" stroke="#111" stroke-width="0.45"/>
<path d="M258.05,484.35A108,108 0 0 1 220.81,475.62L223.51,469.38A101.2,101.2 0 0 0 258.40,477.56Z" fill="#fff000" stroke="#111" stroke-width="0.45"/>
<path d="M260.68,484.46A108,108 0 0 1 258.05,484.35L258.40,477.56A101.2,101.2 0 0 0 260.87,477.66Z" fill="#0b1e8a" stroke="#111" stroke-width="0.45"/>
<path d="M310.54,473.82A108,108 0 0 1 260.68,484.46L260.87,477.66A101.2,101.2 0 0 0 307.59,467.69Z" fill="#f20d1a" stroke="#111" stroke-width="0.45"/>
<path d="M312.90,472.64A108,108 0 0 1 310.54,473.82L307.59,467.69A101.2,101.2 0 0 0 309.80,466.59Z" fill="#0b1e8a" stroke="#111" stroke-width="0.45"/>
<path d="M338.72,454.19A108,108 0 0 1 312.90,472.64L309.80,466.59A101.2,101.2 0 0 0 334.00,449.30Z" fill="#f20d1a" stroke="#111" stroke-width="0.45"/>
<path d="M351.56,326.28L343.29,330.36M352.68,328.29L344.86,333.17" stroke="#777" stroke-width="0.3" fill="none"/>
<g font-family="Liberation Sans, Arial, sans-serif"><text x="186.31" y="290.09" transform="rotate(408.15 186.31 290.09)" text-anchor="end" dominant-baseline="central" font-size="3.7" fill="#2a2a2a" stroke="#2a2a2a" stroke-width="0.12">tRNA-Glu</text>
<text x="188.67" y="288.03" transform="rotate(409.70 188.67 288.03)" text-anchor="end" dominant-baseline="central" font-size="3.7" fill="#2a2a2a" stroke="#2a2a2a" stroke-width="0.12">tRNA-Ser</text>
<text x="191.09" y="286.03" transform="rotate(411.25 191.09 286.03)" text-anchor="end" dominant-baseline="central" font-size="3.7" fill="#2a2a2a" stroke="#2a2a2a" stroke-width="0.12">tRNA-Asn</text>
<text x="193.57" y="284.10" transform="rotate(412.80 193.57 284.10)" text-anchor="end" dominant-baseline="central" font-size="3.7" fill="#2a2a2a" stroke="#2a2a2a" stroke-width="0.12">tRNA-Arg</text>
<text x="196.09" y="282.24" transform="rotate(414.35 196.09 282.24)" text-anchor="end" dominant-baseline="central" font-size="3.7" fill="#2a2a2a" stroke="#2a2a2a" stroke-width="0.12">tRNA-Ala</text>
<text x="202.83" y="277.75" transform="rotate(418.35 202.83 277.75)" text-anchor="end" dominant-baseline="central" font-size="3.7" fill="#2a2a2a" stroke="#2a2a2a" stroke-width="0.12">ND3</text>
<text x="210.50" y="273.42" transform="rotate(422.70 210.50 273.42)" text-anchor="end" dominant-baseline="central" font-size="3.7" fill="#2a2a2a" stroke="#2a2a2a" stroke-width="0.12">tRNA-Gly</text>
<text x="227.37" y="266.33" transform="rotate(431.75 227.37 266.33)" text-anchor="end" dominant-baseline="central" font-size="3.7" fill="#2a2a2a" stroke="#2a2a2a" stroke-width="0.12">COX3</text>
<text x="258.54" y="260.61" transform="rotate(447.45 258.54 260.61)" text-anchor="end" dominant-baseline="central" font-size="3.7" fill="#2a2a2a" stroke="#2a2a2a" stroke-width="0.12">ATP6</text>
<text x="276.03" y="261.16" transform="rotate(-83.90 276.03 261.16)" text-anchor="start" dominant-baseline="central" font-size="3.7" fill="#2a2a2a" stroke="#2a2a2a" stroke-width="0.12">ATP8</text>
<text x="280.24" y="261.69" transform="rotate(-81.80 280.24 261.69)" text-anchor="start" dominant-baseline="central" font-size="3.7" fill="#2a2a2a" stroke="#2a2a2a" stroke-width="0.12">tRNA-Asp</text>
<text x="283.44" y="262.19" transform="rotate(-80.20 283.44 262.19)" text-anchor="start" dominant-baseline="central" font-size="3.7" fill="#2a2a2a" stroke="#2a2a2a" stroke-width="0.12">tRNA-Lys</text>
<text x="299.64" y="266.21" transform="rotate(-71.95 299.64 266.21)" text-anchor="start" dominant-baseline="central" font-size="3.7" fill="#2a2a2a" stroke="#2a2a2a" stroke-width="0.12">COX2</text>
<text x="314.91" y="272.42" transform="rotate(-63.80 314.91 272.42)" text-anchor="start" dominant-baseline="central" font-size="3.7" fill="#2a2a2a" stroke="#2a2a2a" stroke-width="0.12">tRNA-Leu</text>
<text x="343.18" y="292.01" transform="rotate(-46.75 343.18 292.01)" text-anchor="start" dominant-baseline="central" font-size="3.7" fill="#2a2a2a" stroke="#2a2a2a" stroke-width="0.12">COX1</text>
<text x="367.24" y="324.20" transform="rotate(-26.80 367.24 324.20)" text-anchor="start" dominant-baseline="central" font-size="3.7" fill="#2a2a2a" stroke="#2a2a2a" stroke-width="0.12">tRNA-Trp</text>
<text x="375.59" y="345.89" transform="rotate(-15.30 375.59 345.89)" text-anchor="start" dominant-baseline="central" font-size="3.7" fill="#2a2a2a" stroke="#2a2a2a" stroke-width="0.12">ND2</text>
<text x="379.44" y="368.81" transform="rotate(-3.80 379.44 368.81)" text-anchor="start" dominant-baseline="central" font-size="3.7" fill="#2a2a2a" stroke="#2a2a2a" stroke-width="0.12">tRNA-Met</text>
<text x="379.69" y="374.88" transform="rotate(-0.80 379.69 374.88)" text-anchor="start" dominant-baseline="central" font-size="3.7" fill="#2a2a2a" stroke="#2a2a2a" stroke-width="0.12">tRNA-Ile</text>
<text x="215.41" y="481.97" transform="rotate(294.60 215.41 481.97)" text-anchor="end" dominant-baseline="central" font-size="3.7" fill="#2a2a2a" stroke="#2a2a2a" stroke-width="0.12">tRNA-Ser</text>
<text x="193.00" y="468.47" transform="rotate(307.55 193.00 468.47)" text-anchor="end" dominant-baseline="central" font-size="3.7" fill="#2a2a2a" stroke="#2a2a2a" stroke-width="0.12">CYTB</text>
<text x="168.39" y="442.62" transform="rotate(325.25 168.39 442.62)" text-anchor="end" dominant-baseline="central" font-size="3.7" fill="#2a2a2a" stroke="#2a2a2a" stroke-width="0.12">ND6</text>
<text x="161.09" y="430.60" transform="rotate(332.20 161.09 430.60)" text-anchor="end" dominant-baseline="central" font-size="3.7" fill="#2a2a2a" stroke="#2a2a2a" stroke-width="0.12">tRNA-Thr</text>
<text x="164.58" y="363.27" transform="rotate(367.60 164.58 363.27)" text-anchor="start" dominant-baseline="central" font-size="3.7" fill="#2a2a2a" stroke="#2a2a2a" stroke-width="0.12">tRNA-His</text>
<text x="174.64" y="331.02" transform="rotate(387.05 174.64 331.02)" text-anchor="start" dominant-baseline="central" font-size="3.7" fill="#2a2a2a" stroke="#2a2a2a" stroke-width="0.12">ND5</text>
<text x="194.86" y="303.96" transform="rotate(406.50 194.86 303.96)" text-anchor="start" dominant-baseline="central" font-size="3.7" fill="#2a2a2a" stroke="#2a2a2a" stroke-width="0.12">tRNA-Phe</text>
<text x="342.86" y="330.61" transform="rotate(-30.10 342.86 330.61)" text-anchor="end" dominant-baseline="central" font-size="3.7" fill="#2a2a2a" stroke="#2a2a2a" stroke-width="0.12">tRNA-Tyr</text>
<text x="344.41" y="333.40" transform="rotate(-28.10 344.41 333.40)" text-anchor="end" dominant-baseline="central" font-size="3.7" fill="#2a2a2a" stroke="#2a2a2a" stroke-width="0.12">tRNA-Cys</text>
<text x="363.62" y="372.49" transform="rotate(-2.30 363.62 372.49)" text-anchor="end" dominant-baseline="central" font-size="3.7" fill="#2a2a2a" stroke="#2a2a2a" stroke-width="0.12">tRNA-Gln</text>
<text x="321.84" y="457.86" transform="rotate(54.45 321.84 457.86)" text-anchor="end" dominant-baseline="central" font-size="3.7" fill="#2a2a2a" stroke="#2a2a2a" stroke-width="0.12">12S ribosomal RNA</text>
<text x="308.16" y="466.07" transform="rotate(63.60 308.16 466.07)" text-anchor="end" dominant-baseline="central" font-size="3.7" fill="#2a2a2a" stroke="#2a2a2a" stroke-width="0.12">tRNA-Val</text>
<text x="284.58" y="474.30" transform="rotate(77.95 284.58 474.30)" text-anchor="end" dominant-baseline="central" font-size="3.7" fill="#2a2a2a" stroke="#2a2a2a" stroke-width="0.12">16S ribosomal RNA</text>
<text x="259.69" y="476.42" transform="rotate(272.30 259.69 476.42)" text-anchor="start" dominant-baseline="central" font-size="3.7" fill="#2a2a2a" stroke="#2a2a2a" stroke-width="0.12">tRNA-Leu</text>
<text x="240.86" y="473.86" transform="rotate(283.20 240.86 473.86)" text-anchor="start" dominant-baseline="central" font-size="3.7" fill="#2a2a2a" stroke="#2a2a2a" stroke-width="0.12">ND1</text>
<text x="175.90" y="424.37" transform="rotate(331.40 175.90 424.37)" text-anchor="start" dominant-baseline="central" font-size="3.7" fill="#2a2a2a" stroke="#2a2a2a" stroke-width="0.12">tRNA-Pro</text>
<text x="172.92" y="418.45" transform="rotate(335.20 172.92 418.45)" text-anchor="start" dominant-baseline="central" font-size="3.7" fill="#2a2a2a" stroke="#2a2a2a" stroke-width="0.12">ND4L</text>
<text x="164.53" y="389.38" transform="rotate(352.60 164.53 389.38)" text-anchor="start" dominant-baseline="central" font-size="3.7" fill="#2a2a2a" stroke="#2a2a2a" stroke-width="0.12">ND4</text></g>
<g id="insA" stroke-linecap="round" stroke-linejoin="round" fill="none">
  <path d="M121.9,100.6 Q116,92.5 110,89.6 Q105,87.6 101.2,87.2" stroke="#3a302e" stroke-width="0.8"/>
  <path d="M124.9,100.6 Q129,93.5 134,89.2 Q137.5,86 141,84.4" stroke="#3a302e" stroke-width="0.8"/>
  <path d="M101.2,87.2 L99.4,86.8" stroke="#efc2b0" stroke-width="1"/>
  <path d="M141,84.4 L142.8,83.6" stroke="#efc2b0" stroke-width="1"/>
  <path d="M119,105.2 L115,97.8" stroke="#2c2422" stroke-width="1.3"/>
  <path d="M115,97.8 L108,101.5 L104.6,103.4" stroke="#f07458" stroke-width="1"/>
  <path d="M127.8,105.2 L131.8,97.8" stroke="#2c2422" stroke-width="1.3"/>
  <path d="M131.8,97.8 L139,101.5 L142.6,103.4" stroke="#f07458" stroke-width="1"/>
  <path d="M117.4,113.4 L107.2,112" stroke="#2c2422" stroke-width="1.3"/>
  <path d="M107.2,112 L107.8,126.4 L106.2,128.6" stroke="#f07458" stroke-width="1"/>
  <path d="M129.6,113.4 L139.8,112" stroke="#2c2422" stroke-width="1.3"/>
  <path d="M139.8,112 L140.6,126.4 L142.4,128.6" stroke="#f07458" stroke-width="1"/>
  <path d="M117,124.4 L108.4,137.6 L113.8,159.6" stroke="#262020" stroke-width="1.5"/>
  <path d="M113.8,159.6 L115.2,162.6 L116.6,164.6" stroke="#f07458" stroke-width="1"/>
  <path d="M130,124.4 L139.6,137.6 L132.8,159.6" stroke="#262020" stroke-width="1.5"/>
  <path d="M132.8,159.6 L131.4,162.6 L130.2,164.6" stroke="#f07458" stroke-width="1"/>
  <path d="M123.4,99.8 C121.4,99.8 120.8,101.6 121.2,104 L125.6,104 C126,101.6 125.4,99.8 123.4,99.8Z" fill="#574844"/>
  <path d="M119,103.4 L127.8,103.4 L130.4,110 C131,116 130.6,127 129.4,134 C128.2,140.6 125.6,145.8 123.4,145.8 C121.2,145.8 118.6,140.6 117.4,134 C116.2,127 115.8,116 116.4,110Z" fill="#6c5953"/>
  <path d="M119,103.4 L127.8,103.4 L130.4,110 L116.4,110Z" fill="#64514b"/>
  <path d="M118.6,110 L128.2,110 L123.4,119.2Z" fill="#52423e"/>
  <path d="M117.6,125 C119.5,133 121.5,138 123.4,140 C125.3,138 127.3,133 129.2,125 C127,127.5 125,128 123.4,128 C121.8,128 119.8,127.5 117.6,125Z" fill="#5c4943"/>
  <path d="M121.4,143.6 C122.2,145.2 124.6,145.2 125.4,143.6" stroke="#8a4a3a" stroke-width="0.8"/>
</g>
<g id="insB" stroke-linecap="round" stroke-linejoin="round" fill="none">
  <path d="M420.4,94 L419.4,87 L418.6,79.6" stroke="#5a3a32" stroke-width="1.4"/>
  <path d="M423.4,94 L426.4,87 L429.2,81.2" stroke="#5a3a32" stroke-width="1.4"/>
  <path d="M420.4,94 L419.4,87 L418.6,79.6" stroke="#c89488" stroke-width="1.1" stroke-dasharray="1.6 0.7"/>
  <path d="M423.4,94 L426.4,87 L429.2,81.2" stroke="#c89488" stroke-width="1.1" stroke-dasharray="1.6 0.7"/>
  <path d="M413.6,115.4 L409.8,115.8" stroke="#e05a1c" stroke-width="1.5"/>
  <path d="M430,116.6 L433.6,117.4" stroke="#d85a1c" stroke-width="1.5"/>
  <path d="M429.6,128.6 L431,131" stroke="#a84a1c" stroke-width="1.4"/>
  <path d="M413.6,113.4 L430,113.4 C430.6,128 430.8,145 429.4,154.6 C428.2,160.4 425,163.2 421.6,163.2 C418.2,163.2 415.2,160.4 414.2,154.6 C412.8,145 413,128 413.6,113.4Z" fill="#a9582a"/>
  <path d="M414,138 C415.5,148 417.5,156 421.6,162.6 C418,160.6 415.4,157 414.4,150Z" fill="#8a4620" opacity="0.8"/>
  <path d="M429.6,138 C428.5,148 426,156 421.6,162.6 C425.2,160.6 428.2,157 429.2,150Z" fill="#93491f" opacity="0.6"/>
  <path d="M421.6,121 C420.8,134 419.6,147 417.4,157" stroke="#834016" stroke-width="0.6"/>
  <path d="M423.5,126 C425.5,138 427.4,148 428.4,154" stroke="#c0713c" stroke-width="1.2" opacity="0.6"/>
  <path d="M418.8,92.4 C420.2,91.6 423.8,91.6 425.2,92.4 L426,98.6 L418,98.6Z" fill="#34302e"/>
  <circle cx="417.9" cy="96.4" r="0.8" fill="#7a3a2a"/>
  <circle cx="426" cy="96.4" r="0.8" fill="#7a3a2a"/>
  <path d="M417.2,98 C419.4,97.2 424.6,97.2 426.8,98 C429,101.5 429.9,109 429.8,115.8 C427,117.6 424.2,119.6 421.6,120.8 C419,119.6 416.4,117.6 413.8,115.8 C413.6,109 414.6,101.5 417.2,98Z" fill="#2b2725"/>
  <path d="M417.4,103.4 C419.6,102.4 423.8,102.4 426.2,103.4" stroke="#4a4442" stroke-width="1.2"/>
  <path d="M416.6,108.4 C419,110 424.4,110 427,108.4" stroke="#3c3634" stroke-width="0.9"/>
</g>
<g id="insC" stroke-linecap="round" stroke-linejoin="round" fill="none">
  <path d="M263.6,364 Q263,352 259,338 Q256.5,330 255,323.8" stroke="#c86a5a" stroke-width="0.95"/>
  <path d="M266.4,364 Q267,352 274,342 Q280,334 286,328.4" stroke="#c86a5a" stroke-width="0.95"/>
  <path d="M255,323.8 L254.6,321.6" stroke="#a08848" stroke-width="0.9"/>
  <path d="M286,328.4 L287.4,326.6" stroke="#a08848" stroke-width="0.9"/>
  <path d="M260.4,369.4 L252,355 L246.4,349.4" stroke="#cf8a44" stroke-width="0.95"/>
  <path d="M269.4,369.4 L275.9,355 L281.8,349.2" stroke="#cf8a44" stroke-width="0.95"/>
  <path d="M259.2,374.2 L249.6,372.9 L240.4,374.1" stroke="#cf8a44" stroke-width="0.95"/>
  <path d="M240.4,374.1 L236,371" stroke="#d88a78" stroke-width="0.8"/>
  <path d="M270.6,374.2 L279.5,370.6 L289,375.3 L291.8,374" stroke="#cf8a44" stroke-width="0.95"/>
  <path d="M259.2,380.2 L244.8,381.9 L240,390.9" stroke="#cf8a44" stroke-width="0.95"/>
  <path d="M240,390.9 L233,397.2" stroke="#d88a78" stroke-width="0.85"/>
  <path d="M270.6,380.8 L284.3,384.9 L289.6,396.9 L295.8,399.6" stroke="#cf8a44" stroke-width="0.95"/>
  <path d="M264.8,363 C263,363 262.4,365 262.8,367.8 L266.8,367.8 C267.2,365 266.6,363 264.8,363Z" fill="#a8642c"/>
  <path d="M262.2,367.4 L267.6,367.4 L271,377.6 C271.4,385 270.8,395 269.4,401.8 C268.2,407 266.4,409.6 264.6,409.6 C262.8,409.6 260.8,407 259.6,401.8 C258.2,395 257.8,385 258.4,377.6Z" fill="#a34e28"/>
  <path d="M262.2,367.4 L267.6,367.4 L271,377.6 L258.4,377.6Z" fill="#b4732e"/>
  <path d="M261.4,376.4 L268,376.4 L264.6,382.2Z" fill="#d8962e"/>
  <path d="M259.6,392 C261,392.8 263,392 264.6,390.4 C266.2,392 268.2,392.8 269.8,392 C269.6,399 268,405 264.6,409 C261.2,405 259.8,399 259.6,392Z" fill="#8c3c1e"/>
  <circle cx="262.7" cy="389.6" r="0.6" fill="#e8c8a0"/>
  <circle cx="266.4" cy="389.6" r="0.6" fill="#e8c8a0"/>
</g>
<g font-family="Liberation Sans, Arial, sans-serif" font-size="6.4" fill="#222" stroke="#222" stroke-width="0.12">
<rect x="426.4" y="420.00" width="5.8" height="5.8" fill="#fff000" stroke="#444" stroke-width="0.6"/>
<text x="434.6" y="425.70">complex I (NADH dehydrogenase)</text>
<rect x="426.4" y="428.00" width="5.8" height="5.8" fill="#f5a8ef" stroke="#444" stroke-width="0.6"/>
<text x="434.6" y="433.70">complex IV (cytochrome c oxidase)</text>
<rect x="426.4" y="436.00" width="5.8" height="5.8" fill="#7ab51e" stroke="#444" stroke-width="0.6"/>
<text x="434.6" y="441.70">ATP synthase</text>
<rect x="426.4" y="444.00" width="5.8" height="5.8" fill="#cc2fb8" stroke="#444" stroke-width="0.6"/>
<text x="434.6" y="449.70">other genes</text>
<rect x="426.4" y="452.00" width="5.8" height="5.8" fill="#0b1e8a" stroke="#444" stroke-width="0.6"/>
<text x="434.6" y="457.70">transfer RNAs</text>
<rect x="426.4" y="460.00" width="5.8" height="5.8" fill="#f20d1a" stroke="#444" stroke-width="0.6"/>
<text x="434.6" y="465.70">ribosomal RNAs</text>
</g>
<text x="11" y="27.8" font-family="Liberation Serif, Times New Roman, serif" font-size="24" fill="#000" stroke="#000" stroke-width="0.4">A</text>
<text x="123.1" y="173.3" text-anchor="middle" font-family="Liberation Serif, serif" font-style="italic" font-size="5.5" fill="#111" stroke="#111" stroke-width="0.14">Notobitus meleagris</text>
<text x="123.4" y="180.7" text-anchor="middle" font-family="Liberation Serif, serif" font-weight="bold" font-size="5.3" fill="#111">16199 bp</text>
<text x="306" y="30" font-family="Liberation Serif, Times New Roman, serif" font-size="24" fill="#000" stroke="#000" stroke-width="0.4">B</text>
<text x="422.3" y="169.5" text-anchor="middle" font-family="Liberation Serif, serif" font-style="italic" font-size="5.5" fill="#111" stroke="#111" stroke-width="0.14">Macropes harringtonae</text>
<text x="420.8" y="176.5" text-anchor="middle" font-family="Liberation Sans, Arial, sans-serif" font-weight="bold" font-size="4.8" fill="#111">15314 bp</text>
<text x="142.5" y="287" font-family="Liberation Serif, Times New Roman, serif" font-size="24" fill="#000" stroke="#000" stroke-width="0.4">C</text>
<text x="263.9" y="416.7" text-anchor="middle" font-family="Liberation Serif, serif" font-style="italic" font-size="5.5" fill="#111" stroke="#111" stroke-width="0.14">Homoeocerus bipunctatus</text>
<text x="263.7" y="423.1" text-anchor="middle" font-family="Liberation Serif, serif" font-weight="bold" font-size="5.3" fill="#111">16706 bp</text>
</svg></body></html>
